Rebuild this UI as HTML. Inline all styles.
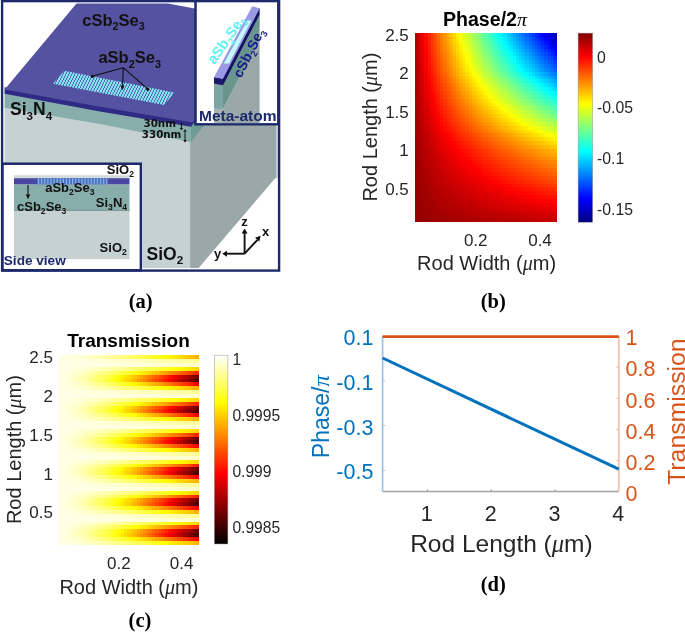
<!DOCTYPE html>
<html><head><meta charset="utf-8"><title>Figure</title>
<style>html,body{margin:0;padding:0;background:#fff;}body{width:685px;height:632px;overflow:hidden;position:relative}#wrap{position:absolute;left:0;top:0;width:685px;height:632px}svg{display:block;position:absolute;left:0;top:0}.hm{position:absolute;display:grid}</style>
</head><body><div id="wrap">
<svg width="685" height="632" viewBox="0 0 685 632">
<rect width="685" height="632" fill="#fff"/>
<polygon points="4.6,104 100,120 191,138 191,268 4.6,268" fill="#c6d2d2"/><polygon points="190.2,124 276,18 276,177.3 198.6,268 190.2,268" fill="#9aa8a7"/><rect x="276" y="120" width="2" height="58" fill="#c9d3d3"/><polygon points="190.4,126.6 215,96.4 215,111.8 190.4,142.6" fill="#6f9b96"/><polygon points="191,122.5 215,92.3 215,96.4 191,126.6" fill="#2e2a86"/><polygon points="4.6,91.6 100,108.6 191,124.6 191,142.2 100,123.9 4.6,107.8" fill="#87aeaa"/><polygon points="4.6,87.3 100,104.5 192.5,120.4 191,126.8 100,111.4 4.6,93.8" fill="#2e2a86"/><polygon points="4.6,89.5 76.5,3.4 168,3.4 200,9.6 200,112 192.5,122.4 100,106.8" fill="#5552a2"/><defs><pattern id="hatch" patternUnits="userSpaceOnUse" x="0" y="0" width="3" height="6"><rect width="3" height="6" fill="#5a6ab4"/><rect x="1" y="0" width="2" height="2" fill="#82e0ee"/><rect x="0" y="2" width="2" height="2" fill="#82e0ee"/><rect x="2" y="4" width="1" height="2" fill="#82e0ee"/><rect x="0" y="4" width="1" height="2" fill="#82e0ee"/></pattern></defs><polygon points="64.4,70.7 174.4,92.4 164.1,105.1 53.1,83.8" fill="url(#hatch)"/><g stroke="#111" stroke-width="1.1" fill="none"><line x1="123.3" y1="67.7" x2="92.2" y2="76.3"/><line x1="123.3" y1="67.7" x2="122.5" y2="87"/><line x1="123.3" y1="67.7" x2="147.8" y2="89.1"/></g><circle cx="92.2" cy="76.4" r="1.7" fill="#111"/><circle cx="147.8" cy="89.2" r="1.7" fill="#111"/><polygon points="120.3,85.6 124.6,85.8 122.3,90.3" fill="#111"/><g font-family="'Liberation Sans', Arial, sans-serif" font-weight="bold" fill="#111"><text x="82.2" y="26" font-size="16.5"><tspan>c</tspan><tspan>Sb</tspan><tspan font-size="10.9" dy="4.1">2</tspan><tspan dy="-4.1">​</tspan><tspan>Se</tspan><tspan font-size="10.9" dy="4.1">3</tspan><tspan dy="-4.1">​</tspan></text><text x="98.4" y="63.4" font-size="16.5"><tspan>a</tspan><tspan>Sb</tspan><tspan font-size="10.9" dy="4.1">2</tspan><tspan dy="-4.1">​</tspan><tspan>Se</tspan><tspan font-size="10.9" dy="4.1">3</tspan><tspan dy="-4.1">​</tspan></text><text x="10" y="115.4" font-size="17.5"><tspan>Si</tspan><tspan font-size="11.6" dy="4.4">3</tspan><tspan dy="-4.4">​</tspan><tspan>N</tspan><tspan font-size="11.6" dy="4.4">4</tspan><tspan dy="-4.4">​</tspan></text><text x="146.5" y="260" font-size="17.5"><tspan>SiO</tspan><tspan font-size="11.6" dy="4.4">2</tspan><tspan dy="-4.4">​</tspan></text></g><g font-family="'DejaVu Sans', sans-serif" font-weight="bold" fill="#111" font-size="10.3"><text x="143.5" y="127.2">30nm</text><text x="141.8" y="138.2">330nm</text></g><g stroke="#111" stroke-width="1" fill="#111"><line x1="181.4" y1="124.5" x2="181.4" y2="128"/><polygon points="179.6,124.6 183.2,124.6 181.4,122.4" stroke="none"/><polygon points="179.6,128 183.2,128 181.4,130.2" stroke="none"/><line x1="185" y1="131.5" x2="185" y2="140"/><polygon points="183.2,131.6 186.8,131.6 185,129.2" stroke="none"/><polygon points="183.2,140 186.8,140 185,142.4" stroke="none"/></g><g stroke="#111" stroke-width="1.9" fill="none"><line x1="244.6" y1="253.7" x2="244.6" y2="233"/><line x1="244.6" y1="253.7" x2="226.5" y2="253.7"/><line x1="244.6" y1="253.7" x2="257.5" y2="239.8"/></g><g fill="#111"><polygon points="241.6,233.5 247.6,233.5 244.6,228.6"/><polygon points="227,250.7 227,256.7 222.2,253.7"/><polygon points="255,237.8 259.4,241.6 260.6,235.8"/></g><g font-family="'Liberation Sans', Arial, sans-serif" font-weight="bold" fill="#111" font-size="13"><text x="244.6" y="226" text-anchor="middle">z</text><text x="265.6" y="236.2" text-anchor="middle">x</text><text x="217.6" y="258" text-anchor="middle">y</text></g><rect x="195.5" y="1" width="82.8" height="123.3" fill="#fff" stroke="#1c2a6c" stroke-width="2"/><polygon points="214,108.3 223,109 259.6,38.5 259.6,123.4 214,123.4" fill="#9aa8a7"/><rect x="214" y="108.3" width="8.4" height="15.1" fill="#a6b3b2"/><polygon points="223,84 259.6,13.5 259.6,38.5 223,109" fill="#6a958f"/><polygon points="214,82.4 223,84 223,109 214,108.3" fill="#7ba6a2"/><polygon points="222.4,78.6 259.6,7.8 259.6,14.6 223,85.2" fill="#161264"/><polygon points="214,77 223,78.7 223,85.2 214,83.4" fill="#1c186e"/><polygon points="214,77.2 252.2,6.3 259.6,8.2 223,78.8" fill="#9a9ae4"/><polygon points="223.8,63.6 247.2,20.4 251.4,20.4 229,63.6" fill="#c4fcfc"/><text font-family="'Liberation Sans', Arial, sans-serif" font-weight="bold" font-size="14.5" fill="#5ef2f4" text-anchor="middle" transform="translate(230.2,42.5) rotate(-55)"><tspan>a</tspan><tspan>Sb</tspan><tspan font-size="9.6" dy="3.6">2</tspan><tspan dy="-3.6">​</tspan><tspan>Se</tspan><tspan font-size="9.6" dy="3.6">3</tspan><tspan dy="-3.6">​</tspan></text><text font-family="'Liberation Sans', Arial, sans-serif" font-weight="bold" font-size="14" fill="#1a1a8c" text-anchor="middle" transform="translate(253,55) rotate(-63)"><tspan>c</tspan><tspan>Sb</tspan><tspan font-size="9.2" dy="3.5">2</tspan><tspan dy="-3.5">​</tspan><tspan>Se</tspan><tspan font-size="9.2" dy="3.5">3</tspan><tspan dy="-3.5">​</tspan></text><text x="199" y="121.2" font-family="'Liberation Sans', Arial, sans-serif" font-weight="bold" font-size="15.5" fill="#1c2a6c">Meta-atom</text><rect x="2.3" y="163.8" width="138.6" height="106.4" fill="#fff" stroke="#1c2a6c" stroke-width="2.2"/><rect x="14" y="175.2" width="115.5" height="3.2" fill="#d3dbdb"/><rect x="14" y="178.2" width="115.5" height="6.4" fill="#4a47a2"/><rect x="37" y="178.2" width="68.9" height="6.4" fill="#4d6cc2"/><rect x="37.90" y="178.2" width="1.3" height="6.4" fill="#80b3e3"/><rect x="41.00" y="178.2" width="1.3" height="6.4" fill="#80b3e3"/><rect x="44.10" y="178.2" width="1.3" height="6.4" fill="#80b3e3"/><rect x="47.20" y="178.2" width="1.3" height="6.4" fill="#80b3e3"/><rect x="50.30" y="178.2" width="1.3" height="6.4" fill="#80b3e3"/><rect x="53.40" y="178.2" width="1.3" height="6.4" fill="#80b3e3"/><rect x="56.50" y="178.2" width="1.3" height="6.4" fill="#80b3e3"/><rect x="59.60" y="178.2" width="1.3" height="6.4" fill="#80b3e3"/><rect x="62.70" y="178.2" width="1.3" height="6.4" fill="#80b3e3"/><rect x="65.80" y="178.2" width="1.3" height="6.4" fill="#80b3e3"/><rect x="68.90" y="178.2" width="1.3" height="6.4" fill="#80b3e3"/><rect x="72.00" y="178.2" width="1.3" height="6.4" fill="#80b3e3"/><rect x="75.10" y="178.2" width="1.3" height="6.4" fill="#80b3e3"/><rect x="78.20" y="178.2" width="1.3" height="6.4" fill="#80b3e3"/><rect x="81.30" y="178.2" width="1.3" height="6.4" fill="#80b3e3"/><rect x="84.40" y="178.2" width="1.3" height="6.4" fill="#80b3e3"/><rect x="87.50" y="178.2" width="1.3" height="6.4" fill="#80b3e3"/><rect x="90.60" y="178.2" width="1.3" height="6.4" fill="#80b3e3"/><rect x="93.70" y="178.2" width="1.3" height="6.4" fill="#80b3e3"/><rect x="96.80" y="178.2" width="1.3" height="6.4" fill="#80b3e3"/><rect x="99.90" y="178.2" width="1.3" height="6.4" fill="#80b3e3"/><rect x="103.00" y="178.2" width="1.3" height="6.4" fill="#80b3e3"/><rect x="106.10" y="178.2" width="1.3" height="6.4" fill="#80b3e3"/><rect x="14" y="184.6" width="115.5" height="25.8" fill="#87aeaa"/><rect x="14" y="210.4" width="115.5" height="48.8" fill="#c6d2d2"/><rect x="14" y="209.9" width="115.5" height="0.9" fill="#6f8a87"/><line x1="28" y1="185" x2="28" y2="195" stroke="#111" stroke-width="1.1"/><polygon points="25.8,194.5 30.2,194.5 28,199.2" fill="#111"/><g font-family="'Liberation Sans', Arial, sans-serif" font-weight="bold" fill="#111" font-size="13"><text x="106.8" y="173.6"><tspan>SiO</tspan><tspan font-size="8.6" dy="3.2">2</tspan><tspan dy="-3.2">​</tspan></text><text x="45.2" y="191.5"><tspan>a</tspan><tspan>Sb</tspan><tspan font-size="8.6" dy="3.2">2</tspan><tspan dy="-3.2">​</tspan><tspan>Se</tspan><tspan font-size="8.6" dy="3.2">3</tspan><tspan dy="-3.2">​</tspan></text><text x="17" y="210.8"><tspan>c</tspan><tspan>Sb</tspan><tspan font-size="8.6" dy="3.2">2</tspan><tspan dy="-3.2">​</tspan><tspan>Se</tspan><tspan font-size="8.6" dy="3.2">3</tspan><tspan dy="-3.2">​</tspan></text><text x="95.8" y="206.5"><tspan>Si</tspan><tspan font-size="8.6" dy="3.2">3</tspan><tspan dy="-3.2">​</tspan><tspan>N</tspan><tspan font-size="8.6" dy="3.2">4</tspan><tspan dy="-3.2">​</tspan></text><text x="99.6" y="251.8"><tspan>SiO</tspan><tspan font-size="8.6" dy="3.2">2</tspan><tspan dy="-3.2">​</tspan></text></g><text x="3.8" y="265" font-family="'Liberation Sans', Arial, sans-serif" font-weight="bold" font-size="13.6" fill="#1c2a6c">Side view</text><rect x="2.1" y="1.1" width="277" height="269.5" fill="none" stroke="#1c2a6c" stroke-width="2.4"/><rect x="2.3" y="163.8" width="138.6" height="106.4" fill="none" stroke="#1c2a6c" stroke-width="2.2"/><rect x="195.5" y="1" width="82.8" height="123.3" fill="none" stroke="#1c2a6c" stroke-width="2"/><text x="140.6" y="307.7" text-anchor="middle" font-family="'Liberation Serif', 'Times New Roman', serif" font-weight="bold" font-size="20.5" fill="#000">(a)</text>
<g font-family="'Liberation Sans', Arial, sans-serif"><text x="484.9" y="25.6" font-size="19.6" font-weight="bold" text-anchor="middle" fill="#000">Phase/2<tspan font-family="'Liberation Serif', 'Times New Roman', serif" font-style="italic" font-weight="normal">π</tspan></text><text x="408.8" y="41.10" font-size="17" text-anchor="end" fill="#262626" >2.5</text><text x="408.8" y="79.30" font-size="17" text-anchor="end" fill="#262626" >2</text><text x="408.8" y="117.50" font-size="17" text-anchor="end" fill="#262626" >1.5</text><text x="408.8" y="156.30" font-size="17" text-anchor="end" fill="#262626" >1</text><text x="408.8" y="194.90" font-size="17" text-anchor="end" fill="#262626" >0.5</text><text x="475.7" y="245.50" font-size="17" text-anchor="middle" fill="#262626" >0.2</text><text x="540" y="245.50" font-size="17" text-anchor="middle" fill="#262626" >0.4</text><text x="486.6" y="269.90" font-size="20" text-anchor="middle" fill="#262626" >Rod Width (<tspan font-family="'Liberation Serif', 'Times New Roman', serif" font-style="italic">μ</tspan>m)</text><text font-size="20" text-anchor="middle" fill="#262626" transform="translate(376.6,127.1) rotate(-90)">Rod Length (<tspan font-family="'Liberation Serif', 'Times New Roman', serif" font-style="italic">μ</tspan>m)</text><defs><linearGradient id="gjet" x1="0" y1="1" x2="0" y2="0"><stop offset="0.0000" stop-color="#000080"/><stop offset="0.0156" stop-color="#00008f"/><stop offset="0.0312" stop-color="#00009f"/><stop offset="0.0469" stop-color="#0000af"/><stop offset="0.0625" stop-color="#0000bf"/><stop offset="0.0781" stop-color="#0000cf"/><stop offset="0.0938" stop-color="#0000df"/><stop offset="0.1094" stop-color="#0000ef"/><stop offset="0.1250" stop-color="#0000ff"/><stop offset="0.1406" stop-color="#0010ff"/><stop offset="0.1562" stop-color="#0020ff"/><stop offset="0.1719" stop-color="#0030ff"/><stop offset="0.1875" stop-color="#0040ff"/><stop offset="0.2031" stop-color="#0050ff"/><stop offset="0.2188" stop-color="#0060ff"/><stop offset="0.2344" stop-color="#0070ff"/><stop offset="0.2500" stop-color="#0080ff"/><stop offset="0.2656" stop-color="#008fff"/><stop offset="0.2812" stop-color="#009fff"/><stop offset="0.2969" stop-color="#00afff"/><stop offset="0.3125" stop-color="#00bfff"/><stop offset="0.3281" stop-color="#00cfff"/><stop offset="0.3438" stop-color="#00dfff"/><stop offset="0.3594" stop-color="#00efff"/><stop offset="0.3750" stop-color="#00ffff"/><stop offset="0.3906" stop-color="#10ffef"/><stop offset="0.4062" stop-color="#20ffdf"/><stop offset="0.4219" stop-color="#30ffcf"/><stop offset="0.4375" stop-color="#40ffbf"/><stop offset="0.4531" stop-color="#50ffaf"/><stop offset="0.4688" stop-color="#60ff9f"/><stop offset="0.4844" stop-color="#70ff8f"/><stop offset="0.5000" stop-color="#80ff80"/><stop offset="0.5156" stop-color="#8fff70"/><stop offset="0.5312" stop-color="#9fff60"/><stop offset="0.5469" stop-color="#afff50"/><stop offset="0.5625" stop-color="#bfff40"/><stop offset="0.5781" stop-color="#cfff30"/><stop offset="0.5938" stop-color="#dfff20"/><stop offset="0.6094" stop-color="#efff10"/><stop offset="0.6250" stop-color="#ffff00"/><stop offset="0.6406" stop-color="#ffef00"/><stop offset="0.6562" stop-color="#ffdf00"/><stop offset="0.6719" stop-color="#ffcf00"/><stop offset="0.6875" stop-color="#ffbf00"/><stop offset="0.7031" stop-color="#ffaf00"/><stop offset="0.7188" stop-color="#ff9f00"/><stop offset="0.7344" stop-color="#ff8f00"/><stop offset="0.7500" stop-color="#ff8000"/><stop offset="0.7656" stop-color="#ff7000"/><stop offset="0.7812" stop-color="#ff6000"/><stop offset="0.7969" stop-color="#ff5000"/><stop offset="0.8125" stop-color="#ff4000"/><stop offset="0.8281" stop-color="#ff3000"/><stop offset="0.8438" stop-color="#ff2000"/><stop offset="0.8594" stop-color="#ff1000"/><stop offset="0.8750" stop-color="#ff0000"/><stop offset="0.8906" stop-color="#ef0000"/><stop offset="0.9062" stop-color="#df0000"/><stop offset="0.9219" stop-color="#cf0000"/><stop offset="0.9375" stop-color="#bf0000"/><stop offset="0.9531" stop-color="#af0000"/><stop offset="0.9688" stop-color="#9f0000"/><stop offset="0.9844" stop-color="#8f0000"/><stop offset="1.0000" stop-color="#800000"/></linearGradient></defs><rect x="578.1" y="33.1" width="14.6" height="189.1" fill="url(#gjet)" stroke="#9a9a9a" stroke-width="0.5"/><text x="597.0" y="62.75" font-size="15.8" text-anchor="start" fill="#262626" >0</text><text x="597.0" y="113.35" font-size="15.8" text-anchor="start" fill="#262626" >-0.05</text><text x="597.0" y="163.95" font-size="15.8" text-anchor="start" fill="#262626" >-0.1</text><text x="597.0" y="214.55" font-size="15.8" text-anchor="start" fill="#262626" >-0.15</text><text x="493.2" y="307.6" text-anchor="middle" font-family="'Liberation Serif', 'Times New Roman', serif" font-weight="bold" font-size="20.5" fill="#000">(b)</text></g>
<g font-family="'Liberation Sans', Arial, sans-serif"><text x="128.5" y="347.3" font-size="19" font-weight="bold" text-anchor="middle" fill="#000">Transmission</text><text x="52.9" y="362.80" font-size="17" text-anchor="end" fill="#262626" >2.5</text><text x="52.9" y="401.80" font-size="17" text-anchor="end" fill="#262626" >2</text><text x="52.9" y="440.80" font-size="17" text-anchor="end" fill="#262626" >1.5</text><text x="52.9" y="480.10" font-size="17" text-anchor="end" fill="#262626" >1</text><text x="52.9" y="518.40" font-size="17" text-anchor="end" fill="#262626" >0.5</text><text x="118.9" y="569.20" font-size="17" text-anchor="middle" fill="#262626" >0.2</text><text x="181.6" y="569.20" font-size="17" text-anchor="middle" fill="#262626" >0.4</text><text x="128.9" y="594.20" font-size="20" text-anchor="middle" fill="#262626" >Rod Width (<tspan font-family="'Liberation Serif', 'Times New Roman', serif" font-style="italic">μ</tspan>m)</text><text font-size="20" text-anchor="middle" fill="#262626" transform="translate(21.2,449.6) rotate(-90)">Rod Length (<tspan font-family="'Liberation Serif', 'Times New Roman', serif" font-style="italic">μ</tspan>m)</text><defs><linearGradient id="ghot" x1="0" y1="1" x2="0" y2="0"><stop offset="0.0000" stop-color="#000000"/><stop offset="0.0156" stop-color="#0b0000"/><stop offset="0.0312" stop-color="#150000"/><stop offset="0.0469" stop-color="#200000"/><stop offset="0.0625" stop-color="#2a0000"/><stop offset="0.0781" stop-color="#350000"/><stop offset="0.0938" stop-color="#400000"/><stop offset="0.1094" stop-color="#4a0000"/><stop offset="0.1250" stop-color="#550000"/><stop offset="0.1406" stop-color="#600000"/><stop offset="0.1562" stop-color="#6a0000"/><stop offset="0.1719" stop-color="#750000"/><stop offset="0.1875" stop-color="#800000"/><stop offset="0.2031" stop-color="#8a0000"/><stop offset="0.2188" stop-color="#950000"/><stop offset="0.2344" stop-color="#9f0000"/><stop offset="0.2500" stop-color="#aa0000"/><stop offset="0.2656" stop-color="#b50000"/><stop offset="0.2812" stop-color="#bf0000"/><stop offset="0.2969" stop-color="#ca0000"/><stop offset="0.3125" stop-color="#d40000"/><stop offset="0.3281" stop-color="#df0000"/><stop offset="0.3438" stop-color="#ea0000"/><stop offset="0.3594" stop-color="#f40000"/><stop offset="0.3750" stop-color="#ff0000"/><stop offset="0.3906" stop-color="#ff0b00"/><stop offset="0.4062" stop-color="#ff1500"/><stop offset="0.4219" stop-color="#ff2000"/><stop offset="0.4375" stop-color="#ff2a00"/><stop offset="0.4531" stop-color="#ff3500"/><stop offset="0.4688" stop-color="#ff4000"/><stop offset="0.4844" stop-color="#ff4a00"/><stop offset="0.5000" stop-color="#ff5500"/><stop offset="0.5156" stop-color="#ff6000"/><stop offset="0.5312" stop-color="#ff6a00"/><stop offset="0.5469" stop-color="#ff7500"/><stop offset="0.5625" stop-color="#ff8000"/><stop offset="0.5781" stop-color="#ff8a00"/><stop offset="0.5938" stop-color="#ff9500"/><stop offset="0.6094" stop-color="#ff9f00"/><stop offset="0.6250" stop-color="#ffaa00"/><stop offset="0.6406" stop-color="#ffb500"/><stop offset="0.6562" stop-color="#ffbf00"/><stop offset="0.6719" stop-color="#ffca00"/><stop offset="0.6875" stop-color="#ffd400"/><stop offset="0.7031" stop-color="#ffdf00"/><stop offset="0.7188" stop-color="#ffea00"/><stop offset="0.7344" stop-color="#fff400"/><stop offset="0.7500" stop-color="#ffff00"/><stop offset="0.7656" stop-color="#ffff10"/><stop offset="0.7812" stop-color="#ffff20"/><stop offset="0.7969" stop-color="#ffff30"/><stop offset="0.8125" stop-color="#ffff40"/><stop offset="0.8281" stop-color="#ffff50"/><stop offset="0.8438" stop-color="#ffff60"/><stop offset="0.8594" stop-color="#ffff70"/><stop offset="0.8750" stop-color="#ffff80"/><stop offset="0.8906" stop-color="#ffff8f"/><stop offset="0.9062" stop-color="#ffff9f"/><stop offset="0.9219" stop-color="#ffffaf"/><stop offset="0.9375" stop-color="#ffffbf"/><stop offset="0.9531" stop-color="#ffffcf"/><stop offset="0.9688" stop-color="#ffffdf"/><stop offset="0.9844" stop-color="#ffffef"/><stop offset="1.0000" stop-color="#ffffff"/></linearGradient></defs><rect x="214.3" y="355.2" width="13.6" height="188.8" fill="url(#ghot)" stroke="#9a9a9a" stroke-width="0.5"/><text x="232.4" y="364.80" font-size="15.6" text-anchor="start" fill="#262626" >1</text><text x="232.4" y="420.80" font-size="15.6" text-anchor="start" fill="#262626" >0.9995</text><text x="232.4" y="476.80" font-size="15.6" text-anchor="start" fill="#262626" >0.999</text><text x="232.4" y="532.80" font-size="15.6" text-anchor="start" fill="#262626" >0.9985</text><text x="140" y="626.8" text-anchor="middle" font-family="'Liberation Serif', 'Times New Roman', serif" font-weight="bold" font-size="20.5" fill="#000">(c)</text></g>
<g font-family="'Liberation Sans', Arial, sans-serif"><line x1="382.6" y1="491.6" x2="618.8" y2="491.6" stroke="#a3a3a3" stroke-width="1.5"/><line x1="382.6" y1="336" x2="382.6" y2="491.6" stroke="#98c3e6" stroke-width="1.7"/><line x1="618.8" y1="336" x2="618.8" y2="491.6" stroke="#f2b8a0" stroke-width="1.5"/><line x1="382.6" y1="380.8" x2="385.1" y2="380.8" stroke="#9cc4e4" stroke-width="1"/><line x1="382.6" y1="425.5" x2="385.1" y2="425.5" stroke="#9cc4e4" stroke-width="1"/><line x1="382.6" y1="470.3" x2="385.1" y2="470.3" stroke="#9cc4e4" stroke-width="1"/><line x1="616.3" y1="460.6" x2="618.8" y2="460.6" stroke="#f0b9a0" stroke-width="1"/><line x1="616.3" y1="429.4" x2="618.8" y2="429.4" stroke="#f0b9a0" stroke-width="1"/><line x1="616.3" y1="398.3" x2="618.8" y2="398.3" stroke="#f0b9a0" stroke-width="1"/><line x1="616.3" y1="367.1" x2="618.8" y2="367.1" stroke="#f0b9a0" stroke-width="1"/><line x1="427.3" y1="491.6" x2="427.3" y2="489.1" stroke="#a0a0a0" stroke-width="1"/><line x1="491.2" y1="491.6" x2="491.2" y2="489.1" stroke="#a0a0a0" stroke-width="1"/><line x1="555.0" y1="491.6" x2="555.0" y2="489.1" stroke="#a0a0a0" stroke-width="1"/><line x1="382.6" y1="336.6" x2="618.8" y2="336.6" stroke="#d95319" stroke-width="2.6"/><line x1="382.6" y1="358" x2="618.8" y2="469.2" stroke="#0072bd" stroke-width="3"/><text x="373.4" y="345.00" font-size="21.5" text-anchor="end" fill="#0072bd" >0.1</text><text x="373.4" y="390.40" font-size="21.5" text-anchor="end" fill="#0072bd" >-0.1</text><text x="373.4" y="435.00" font-size="21.5" text-anchor="end" fill="#0072bd" >-0.3</text><text x="373.4" y="478.90" font-size="21.5" text-anchor="end" fill="#0072bd" >-0.5</text><text x="625.5" y="345.20" font-size="21.5" text-anchor="start" fill="#d95319" >1</text><text x="625.5" y="376.30" font-size="21.5" text-anchor="start" fill="#d95319" >0.8</text><text x="625.5" y="407.60" font-size="21.5" text-anchor="start" fill="#d95319" >0.6</text><text x="625.5" y="438.70" font-size="21.5" text-anchor="start" fill="#d95319" >0.4</text><text x="625.5" y="469.80" font-size="21.5" text-anchor="start" fill="#d95319" >0.2</text><text x="625.5" y="500.90" font-size="21.5" text-anchor="start" fill="#d95319" >0</text><text x="426.7" y="521.20" font-size="21.5" text-anchor="middle" fill="#262626" >1</text><text x="490.8" y="521.20" font-size="21.5" text-anchor="middle" fill="#262626" >2</text><text x="554.6" y="521.20" font-size="21.5" text-anchor="middle" fill="#262626" >3</text><text x="618.3" y="521.20" font-size="21.5" text-anchor="middle" fill="#262626" >4</text><text x="501.4" y="551.50" font-size="24.5" text-anchor="middle" fill="#262626" >Rod Length (<tspan font-family="'Liberation Serif', 'Times New Roman', serif" font-style="italic">μ</tspan>m)</text><text font-size="23" text-anchor="middle" fill="#0072bd" transform="translate(329.2,416.6) rotate(-90)">Phase/<tspan font-family="'Liberation Serif', 'Times New Roman', serif" font-style="italic" font-weight="normal">π</tspan></text><text font-size="24.8" text-anchor="middle" fill="#d95319" transform="translate(684.8,411.6) rotate(-90)">Transmission</text><text x="493.2" y="590.9" text-anchor="middle" font-family="'Liberation Serif', 'Times New Roman', serif" font-weight="bold" font-size="20.5" fill="#000">(d)</text></g>
</svg>
<div class="hm" style="left:415px;top:33.1px;width:141.50px;height:189.10px;grid-template-rows:repeat(49,1fr)"><div style="background:linear-gradient(90deg,#b70000 0 2.22%,#d50000 0 4.44%,#f00000 0 6.67%,#ff0b00 0 8.89%,#ff2400 0 11.11%,#ff3d00 0 13.33%,#ff5500 0 15.56%,#ff6c00 0 17.78%,#ff8300 0 20.00%,#ff9a00 0 22.22%,#ffb000 0 24.44%,#ffc600 0 26.67%,#ffdb00 0 28.89%,#fff100 0 31.11%,#f8ff07 0 33.33%,#e3ff1c 0 35.56%,#cfff30 0 37.78%,#baff45 0 40.00%,#a6ff59 0 42.22%,#91ff6e 0 44.44%,#7dff82 0 46.67%,#69ff96 0 48.89%,#56ffa9 0 51.11%,#42ffbd 0 53.33%,#2effd1 0 55.56%,#1bffe4 0 57.78%,#08fff7 0 60.00%,#00f4ff 0 62.22%,#00e0ff 0 64.44%,#00cdff 0 66.67%,#00bbff 0 68.89%,#00a8ff 0 71.11%,#0095ff 0 73.33%,#0082ff 0 75.56%,#0070ff 0 77.78%,#005dff 0 80.00%,#004bff 0 82.22%,#0039ff 0 84.44%,#0026ff 0 86.67%,#0014ff 0 88.89%,#0002ff 0 91.11%,#0000ef 0 93.33%,#0000dd 0 95.56%,#0000cb 0 97.78%,#0000b9 0 100.00%)"></div><div style="background:linear-gradient(90deg,#b60000 0 2.22%,#d30000 0 4.44%,#ee0000 0 6.67%,#ff0900 0 8.89%,#ff2200 0 11.11%,#ff3a00 0 13.33%,#ff5100 0 15.56%,#ff6800 0 17.78%,#ff7e00 0 20.00%,#ff9500 0 22.22%,#ffaa00 0 24.44%,#ffc000 0 26.67%,#ffd500 0 28.89%,#ffea00 0 31.11%,#ffff00 0 33.33%,#ebff14 0 35.56%,#d6ff29 0 37.78%,#c2ff3d 0 40.00%,#aeff51 0 42.22%,#9bff64 0 44.44%,#87ff78 0 46.67%,#73ff8c 0 48.89%,#60ff9f 0 51.11%,#4dffb2 0 53.33%,#39ffc6 0 55.56%,#26ffd9 0 57.78%,#13ffec 0 60.00%,#01fffe 0 62.22%,#00edff 0 64.44%,#00daff 0 66.67%,#00c8ff 0 68.89%,#00b5ff 0 71.11%,#00a3ff 0 73.33%,#0091ff 0 75.56%,#007eff 0 77.78%,#006cff 0 80.00%,#005aff 0 82.22%,#0048ff 0 84.44%,#0036ff 0 86.67%,#0024ff 0 88.89%,#0013ff 0 91.11%,#0001ff 0 93.33%,#0000ee 0 95.56%,#0000dd 0 97.78%,#0000cb 0 100.00%)"></div><div style="background:linear-gradient(90deg,#b50000 0 2.22%,#d20000 0 4.44%,#ec0000 0 6.67%,#ff0700 0 8.89%,#ff1f00 0 11.11%,#ff3600 0 13.33%,#ff4d00 0 15.56%,#ff6400 0 17.78%,#ff7a00 0 20.00%,#ff8f00 0 22.22%,#ffa500 0 24.44%,#ffba00 0 26.67%,#ffcf00 0 28.89%,#ffe300 0 31.11%,#fff800 0 33.33%,#f2ff0d 0 35.56%,#deff21 0 37.78%,#cbff34 0 40.00%,#b7ff48 0 42.22%,#a4ff5b 0 44.44%,#90ff6f 0 46.67%,#7dff82 0 48.89%,#6aff95 0 51.11%,#57ffa8 0 53.33%,#44ffbb 0 55.56%,#32ffcd 0 57.78%,#1fffe0 0 60.00%,#0dfff2 0 62.22%,#00f9ff 0 64.44%,#00e7ff 0 66.67%,#00d5ff 0 68.89%,#00c3ff 0 71.11%,#00b1ff 0 73.33%,#009fff 0 75.56%,#008dff 0 77.78%,#007bff 0 80.00%,#006aff 0 82.22%,#0058ff 0 84.44%,#0046ff 0 86.67%,#0035ff 0 88.89%,#0023ff 0 91.11%,#0012ff 0 93.33%,#0001ff 0 95.56%,#0000ef 0 97.78%,#0000dd 0 100.00%)"></div><div style="background:linear-gradient(90deg,#b50000 0 2.22%,#d10000 0 4.44%,#eb0000 0 6.67%,#ff0400 0 8.89%,#ff1c00 0 11.11%,#ff3300 0 13.33%,#ff4a00 0 15.56%,#ff6000 0 17.78%,#ff7500 0 20.00%,#ff8a00 0 22.22%,#ff9f00 0 24.44%,#ffb400 0 26.67%,#ffc800 0 28.89%,#ffdc00 0 31.11%,#fff000 0 33.33%,#faff05 0 35.56%,#e6ff19 0 37.78%,#d3ff2c 0 40.00%,#c0ff3f 0 42.22%,#adff52 0 44.44%,#9aff65 0 46.67%,#87ff78 0 48.89%,#74ff8b 0 51.11%,#62ff9d 0 53.33%,#4fffb0 0 55.56%,#3dffc2 0 57.78%,#2bffd4 0 60.00%,#19ffe6 0 62.22%,#07fff8 0 64.44%,#00f4ff 0 66.67%,#00e2ff 0 68.89%,#00d0ff 0 71.11%,#00bfff 0 73.33%,#00adff 0 75.56%,#009cff 0 77.78%,#008aff 0 80.00%,#0079ff 0 82.22%,#0068ff 0 84.44%,#0056ff 0 86.67%,#0045ff 0 88.89%,#0034ff 0 91.11%,#0023ff 0 93.33%,#0012ff 0 95.56%,#0001ff 0 97.78%,#0000ef 0 100.00%)"></div><div style="background:linear-gradient(90deg,#b40000 0 2.22%,#cf0000 0 4.44%,#e90000 0 6.67%,#ff0200 0 8.89%,#ff1900 0 11.11%,#ff3000 0 13.33%,#ff4600 0 15.56%,#ff5b00 0 17.78%,#ff7100 0 20.00%,#ff8500 0 22.22%,#ff9a00 0 24.44%,#ffae00 0 26.67%,#ffc200 0 28.89%,#ffd600 0 31.11%,#ffe900 0 33.33%,#fffd00 0 35.56%,#eeff11 0 37.78%,#dbff24 0 40.00%,#c8ff37 0 42.22%,#b6ff49 0 44.44%,#a3ff5c 0 46.67%,#91ff6e 0 48.89%,#7fff80 0 51.11%,#6cff93 0 53.33%,#5affa5 0 55.56%,#48ffb7 0 57.78%,#37ffc8 0 60.00%,#25ffda 0 62.22%,#13ffec 0 64.44%,#02fffd 0 66.67%,#00efff 0 68.89%,#00deff 0 71.11%,#00cdff 0 73.33%,#00bbff 0 75.56%,#00aaff 0 77.78%,#0099ff 0 80.00%,#0088ff 0 82.22%,#0077ff 0 84.44%,#0066ff 0 86.67%,#0056ff 0 88.89%,#0045ff 0 91.11%,#0034ff 0 93.33%,#0024ff 0 95.56%,#0013ff 0 97.78%,#0003ff 0 100.00%)"></div><div style="background:linear-gradient(90deg,#b30000 0 2.22%,#ce0000 0 4.44%,#e70000 0 6.67%,#ff0000 0 8.89%,#ff1700 0 11.11%,#ff2d00 0 13.33%,#ff4200 0 15.56%,#ff5700 0 17.78%,#ff6c00 0 20.00%,#ff8000 0 22.22%,#ff9400 0 24.44%,#ffa800 0 26.67%,#ffbc00 0 28.89%,#ffcf00 0 31.11%,#ffe200 0 33.33%,#fff500 0 35.56%,#f6ff09 0 37.78%,#e4ff1b 0 40.00%,#d1ff2e 0 42.22%,#bfff40 0 44.44%,#adff52 0 46.67%,#9bff64 0 48.89%,#89ff76 0 51.11%,#77ff88 0 53.33%,#65ff9a 0 55.56%,#54ffab 0 57.78%,#42ffbd 0 60.00%,#31ffce 0 62.22%,#20ffdf 0 64.44%,#0ffff0 0 66.67%,#00fcff 0 68.89%,#00ebff 0 71.11%,#00daff 0 73.33%,#00caff 0 75.56%,#00b9ff 0 77.78%,#00a8ff 0 80.00%,#0097ff 0 82.22%,#0087ff 0 84.44%,#0076ff 0 86.67%,#0066ff 0 88.89%,#0056ff 0 91.11%,#0045ff 0 93.33%,#0035ff 0 95.56%,#0025ff 0 97.78%,#0015ff 0 100.00%)"></div><div style="background:linear-gradient(90deg,#b20000 0 2.22%,#cd0000 0 4.44%,#e50000 0 6.67%,#fc0000 0 8.89%,#ff1400 0 11.11%,#ff2900 0 13.33%,#ff3e00 0 15.56%,#ff5300 0 17.78%,#ff6700 0 20.00%,#ff7b00 0 22.22%,#ff8f00 0 24.44%,#ffa200 0 26.67%,#ffb500 0 28.89%,#ffc800 0 31.11%,#ffdb00 0 33.33%,#ffee00 0 35.56%,#feff01 0 37.78%,#ecff13 0 40.00%,#daff25 0 42.22%,#c8ff37 0 44.44%,#b6ff49 0 46.67%,#a5ff5a 0 48.89%,#93ff6c 0 51.11%,#82ff7d 0 53.33%,#70ff8f 0 55.56%,#5fffa0 0 57.78%,#4effb1 0 60.00%,#3dffc2 0 62.22%,#2cffd3 0 64.44%,#1bffe4 0 66.67%,#0bfff4 0 68.89%,#00f9ff 0 71.11%,#00e8ff 0 73.33%,#00d8ff 0 75.56%,#00c7ff 0 77.78%,#00b7ff 0 80.00%,#00a7ff 0 82.22%,#0097ff 0 84.44%,#0086ff 0 86.67%,#0076ff 0 88.89%,#0066ff 0 91.11%,#0056ff 0 93.33%,#0046ff 0 95.56%,#0037ff 0 97.78%,#0027ff 0 100.00%)"></div><div style="background:linear-gradient(90deg,#b20000 0 2.22%,#cc0000 0 4.44%,#e30000 0 6.67%,#fa0000 0 8.89%,#ff1100 0 11.11%,#ff2600 0 13.33%,#ff3b00 0 15.56%,#ff4f00 0 17.78%,#ff6300 0 20.00%,#ff7600 0 22.22%,#ff8a00 0 24.44%,#ff9c00 0 26.67%,#ffaf00 0 28.89%,#ffc200 0 31.11%,#ffd400 0 33.33%,#ffe600 0 35.56%,#fff800 0 37.78%,#f4ff0b 0 40.00%,#e3ff1c 0 42.22%,#d1ff2e 0 44.44%,#c0ff3f 0 46.67%,#aeff51 0 48.89%,#9dff62 0 51.11%,#8cff73 0 53.33%,#7bff84 0 55.56%,#6aff95 0 57.78%,#5affa5 0 60.00%,#49ffb6 0 62.22%,#39ffc6 0 64.44%,#28ffd7 0 66.67%,#18ffe7 0 68.89%,#07fff8 0 71.11%,#00f6ff 0 73.33%,#00e6ff 0 75.56%,#00d6ff 0 77.78%,#00c6ff 0 80.00%,#00b6ff 0 82.22%,#00a6ff 0 84.44%,#0096ff 0 86.67%,#0087ff 0 88.89%,#0077ff 0 91.11%,#0067ff 0 93.33%,#0058ff 0 95.56%,#0048ff 0 97.78%,#0039ff 0 100.00%)"></div><div style="background:linear-gradient(90deg,#b10000 0 2.22%,#ca0000 0 4.44%,#e20000 0 6.67%,#f80000 0 8.89%,#ff0e00 0 11.11%,#ff2300 0 13.33%,#ff3700 0 15.56%,#ff4b00 0 17.78%,#ff5e00 0 20.00%,#ff7100 0 22.22%,#ff8400 0 24.44%,#ff9700 0 26.67%,#ffa900 0 28.89%,#ffbb00 0 31.11%,#ffcd00 0 33.33%,#ffdf00 0 35.56%,#fff000 0 37.78%,#fcff03 0 40.00%,#ebff14 0 42.22%,#daff25 0 44.44%,#c9ff36 0 46.67%,#b8ff47 0 48.89%,#a7ff58 0 51.11%,#97ff68 0 53.33%,#86ff79 0 55.56%,#76ff89 0 57.78%,#65ff9a 0 60.00%,#55ffaa 0 62.22%,#45ffba 0 64.44%,#35ffca 0 66.67%,#25ffda 0 68.89%,#15ffea 0 71.11%,#05fffa 0 73.33%,#00f4ff 0 75.56%,#00e5ff 0 77.78%,#00d5ff 0 80.00%,#00c5ff 0 82.22%,#00b6ff 0 84.44%,#00a6ff 0 86.67%,#0097ff 0 88.89%,#0088ff 0 91.11%,#0078ff 0 93.33%,#0069ff 0 95.56%,#005aff 0 97.78%,#004bff 0 100.00%)"></div><div style="background:linear-gradient(90deg,#b00000 0 2.22%,#c90000 0 4.44%,#e00000 0 6.67%,#f50000 0 8.89%,#ff0b00 0 11.11%,#ff1f00 0 13.33%,#ff3300 0 15.56%,#ff4600 0 17.78%,#ff5900 0 20.00%,#ff6c00 0 22.22%,#ff7e00 0 24.44%,#ff9000 0 26.67%,#ffa200 0 28.89%,#ffb400 0 31.11%,#ffc500 0 33.33%,#ffd700 0 35.56%,#ffe800 0 37.78%,#fff900 0 40.00%,#f5ff0a 0 42.22%,#e4ff1b 0 44.44%,#d3ff2c 0 46.67%,#c3ff3c 0 48.89%,#b2ff4d 0 51.11%,#a2ff5d 0 53.33%,#92ff6d 0 55.56%,#82ff7d 0 57.78%,#72ff8d 0 60.00%,#62ff9d 0 62.22%,#52ffad 0 64.44%,#43ffbc 0 66.67%,#33ffcc 0 68.89%,#24ffdb 0 71.11%,#14ffeb 0 73.33%,#05fffa 0 75.56%,#00f4ff 0 77.78%,#00e5ff 0 80.00%,#00d6ff 0 82.22%,#00c7ff 0 84.44%,#00b8ff 0 86.67%,#00a9ff 0 88.89%,#009aff 0 91.11%,#008bff 0 93.33%,#007cff 0 95.56%,#006dff 0 97.78%,#005eff 0 100.00%)"></div><div style="background:linear-gradient(90deg,#af0000 0 2.22%,#c70000 0 4.44%,#dd0000 0 6.67%,#f20000 0 8.89%,#ff0700 0 11.11%,#ff1b00 0 13.33%,#ff2e00 0 15.56%,#ff4100 0 17.78%,#ff5300 0 20.00%,#ff6500 0 22.22%,#ff7700 0 24.44%,#ff8800 0 26.67%,#ff9a00 0 28.89%,#ffab00 0 31.11%,#ffbc00 0 33.33%,#ffcc00 0 35.56%,#ffdd00 0 37.78%,#ffed00 0 40.00%,#fffe00 0 42.22%,#f0ff0f 0 44.44%,#e0ff1f 0 46.67%,#d0ff2f 0 48.89%,#c0ff3f 0 51.11%,#b1ff4e 0 53.33%,#a1ff5e 0 55.56%,#91ff6e 0 57.78%,#82ff7d 0 60.00%,#73ff8c 0 62.22%,#63ff9c 0 64.44%,#54ffab 0 66.67%,#45ffba 0 68.89%,#36ffc9 0 71.11%,#27ffd8 0 73.33%,#18ffe7 0 75.56%,#09fff6 0 77.78%,#00f9ff 0 80.00%,#00ebff 0 82.22%,#00dcff 0 84.44%,#00cdff 0 86.67%,#00bfff 0 88.89%,#00b0ff 0 91.11%,#00a2ff 0 93.33%,#0094ff 0 95.56%,#0085ff 0 97.78%,#0077ff 0 100.00%)"></div><div style="background:linear-gradient(90deg,#ae0000 0 2.22%,#c50000 0 4.44%,#db0000 0 6.67%,#ef0000 0 8.89%,#ff0400 0 11.11%,#ff1600 0 13.33%,#ff2900 0 15.56%,#ff3b00 0 17.78%,#ff4d00 0 20.00%,#ff5e00 0 22.22%,#ff6f00 0 24.44%,#ff8000 0 26.67%,#ff9100 0 28.89%,#ffa200 0 31.11%,#ffb200 0 33.33%,#ffc200 0 35.56%,#ffd200 0 37.78%,#ffe200 0 40.00%,#fff200 0 42.22%,#fdff02 0 44.44%,#edff12 0 46.67%,#deff21 0 48.89%,#ceff31 0 51.11%,#bfff40 0 53.33%,#b0ff4f 0 55.56%,#a1ff5e 0 57.78%,#92ff6d 0 60.00%,#83ff7c 0 62.22%,#74ff8b 0 64.44%,#66ff99 0 66.67%,#57ffa8 0 68.89%,#48ffb7 0 71.11%,#3affc5 0 73.33%,#2bffd4 0 75.56%,#1dffe2 0 77.78%,#0ffff0 0 80.00%,#01fffe 0 82.22%,#00f1ff 0 84.44%,#00e3ff 0 86.67%,#00d5ff 0 88.89%,#00c7ff 0 91.11%,#00b9ff 0 93.33%,#00abff 0 95.56%,#009dff 0 97.78%,#008fff 0 100.00%)"></div><div style="background:linear-gradient(90deg,#ad0000 0 2.22%,#c40000 0 4.44%,#d80000 0 6.67%,#ec0000 0 8.89%,#ff0000 0 11.11%,#ff1200 0 13.33%,#ff2400 0 15.56%,#ff3500 0 17.78%,#ff4600 0 20.00%,#ff5700 0 22.22%,#ff6800 0 24.44%,#ff7800 0 26.67%,#ff8800 0 28.89%,#ff9800 0 31.11%,#ffa800 0 33.33%,#ffb800 0 35.56%,#ffc700 0 37.78%,#ffd700 0 40.00%,#ffe600 0 42.22%,#fff500 0 44.44%,#faff05 0 46.67%,#ebff14 0 48.89%,#dcff23 0 51.11%,#cdff32 0 53.33%,#bfff40 0 55.56%,#b0ff4f 0 57.78%,#a2ff5d 0 60.00%,#93ff6c 0 62.22%,#85ff7a 0 64.44%,#77ff88 0 66.67%,#69ff96 0 68.89%,#5bffa4 0 71.11%,#4dffb2 0 73.33%,#3fffc0 0 75.56%,#31ffce 0 77.78%,#23ffdc 0 80.00%,#15ffea 0 82.22%,#08fff7 0 84.44%,#00f9ff 0 86.67%,#00ebff 0 88.89%,#00deff 0 91.11%,#00d0ff 0 93.33%,#00c3ff 0 95.56%,#00b5ff 0 97.78%,#00a8ff 0 100.00%)"></div><div style="background:linear-gradient(90deg,#ac0000 0 2.22%,#c20000 0 4.44%,#d60000 0 6.67%,#e90000 0 8.89%,#fb0000 0 11.11%,#ff0e00 0 13.33%,#ff1f00 0 15.56%,#ff3000 0 17.78%,#ff4000 0 20.00%,#ff5000 0 22.22%,#ff6000 0 24.44%,#ff7000 0 26.67%,#ff8000 0 28.89%,#ff8f00 0 31.11%,#ff9f00 0 33.33%,#ffae00 0 35.56%,#ffbd00 0 37.78%,#ffcb00 0 40.00%,#ffda00 0 42.22%,#ffe900 0 44.44%,#fff700 0 46.67%,#f8ff07 0 48.89%,#eaff15 0 51.11%,#dcff23 0 53.33%,#ceff31 0 55.56%,#c0ff3f 0 57.78%,#b2ff4d 0 60.00%,#a4ff5b 0 62.22%,#96ff69 0 64.44%,#88ff77 0 66.67%,#7bff84 0 68.89%,#6dff92 0 71.11%,#60ff9f 0 73.33%,#52ffad 0 75.56%,#45ffba 0 77.78%,#37ffc8 0 80.00%,#2affd5 0 82.22%,#1dffe2 0 84.44%,#10ffef 0 86.67%,#03fffc 0 88.89%,#00f5ff 0 91.11%,#00e8ff 0 93.33%,#00dbff 0 95.56%,#00ceff 0 97.78%,#00c1ff 0 100.00%)"></div><div style="background:linear-gradient(90deg,#ab0000 0 2.22%,#c00000 0 4.44%,#d30000 0 6.67%,#e60000 0 8.89%,#f70000 0 11.11%,#ff0900 0 13.33%,#ff1a00 0 15.56%,#ff2a00 0 17.78%,#ff3a00 0 20.00%,#ff4a00 0 22.22%,#ff5900 0 24.44%,#ff6800 0 26.67%,#ff7700 0 28.89%,#ff8600 0 31.11%,#ff9500 0 33.33%,#ffa300 0 35.56%,#ffb200 0 37.78%,#ffc000 0 40.00%,#ffce00 0 42.22%,#ffdc00 0 44.44%,#ffea00 0 46.67%,#fff800 0 48.89%,#f8ff07 0 51.11%,#eaff15 0 53.33%,#ddff22 0 55.56%,#cfff30 0 57.78%,#c2ff3d 0 60.00%,#b4ff4b 0 62.22%,#a7ff58 0 64.44%,#9aff65 0 66.67%,#8dff72 0 68.89%,#80ff7f 0 71.11%,#73ff8c 0 73.33%,#66ff99 0 75.56%,#59ffa6 0 77.78%,#4cffb3 0 80.00%,#3fffc0 0 82.22%,#32ffcd 0 84.44%,#26ffd9 0 86.67%,#19ffe6 0 88.89%,#0cfff3 0 91.11%,#00ffff 0 93.33%,#00f2ff 0 95.56%,#00e6ff 0 97.78%,#00d9ff 0 100.00%)"></div><div style="background:linear-gradient(90deg,#ab0000 0 2.22%,#bf0000 0 4.44%,#d10000 0 6.67%,#e30000 0 8.89%,#f30000 0 11.11%,#ff0500 0 13.33%,#ff1500 0 15.56%,#ff2500 0 17.78%,#ff3400 0 20.00%,#ff4300 0 22.22%,#ff5200 0 24.44%,#ff6100 0 26.67%,#ff6f00 0 28.89%,#ff7d00 0 31.11%,#ff8c00 0 33.33%,#ff9a00 0 35.56%,#ffa800 0 37.78%,#ffb500 0 40.00%,#ffc300 0 42.22%,#ffd100 0 44.44%,#ffde00 0 46.67%,#ffeb00 0 48.89%,#fff900 0 51.11%,#f8ff07 0 53.33%,#ebff14 0 55.56%,#deff21 0 57.78%,#d1ff2e 0 60.00%,#c4ff3b 0 62.22%,#b7ff48 0 64.44%,#abff54 0 66.67%,#9eff61 0 68.89%,#91ff6e 0 71.11%,#85ff7a 0 73.33%,#78ff87 0 75.56%,#6cff93 0 77.78%,#5fffa0 0 80.00%,#53ffac 0 82.22%,#47ffb8 0 84.44%,#3bffc4 0 86.67%,#2effd1 0 88.89%,#22ffdd 0 91.11%,#16ffe9 0 93.33%,#0afff5 0 95.56%,#00fdff 0 97.78%,#00f1ff 0 100.00%)"></div><div style="background:linear-gradient(90deg,#aa0000 0 2.22%,#bd0000 0 4.44%,#cf0000 0 6.67%,#e00000 0 8.89%,#f00000 0 11.11%,#ff0100 0 13.33%,#ff1000 0 15.56%,#ff1f00 0 17.78%,#ff2e00 0 20.00%,#ff3d00 0 22.22%,#ff4b00 0 24.44%,#ff5900 0 26.67%,#ff6700 0 28.89%,#ff7500 0 31.11%,#ff8300 0 33.33%,#ff9000 0 35.56%,#ff9e00 0 37.78%,#ffab00 0 40.00%,#ffb800 0 42.22%,#ffc500 0 44.44%,#ffd200 0 46.67%,#ffdf00 0 48.89%,#ffec00 0 51.11%,#fff900 0 53.33%,#f9ff06 0 55.56%,#ecff13 0 57.78%,#e0ff1f 0 60.00%,#d3ff2c 0 62.22%,#c7ff38 0 64.44%,#bbff44 0 66.67%,#aeff51 0 68.89%,#a2ff5d 0 71.11%,#96ff69 0 73.33%,#8aff75 0 75.56%,#7eff81 0 77.78%,#72ff8d 0 80.00%,#66ff99 0 82.22%,#5affa5 0 84.44%,#4effb1 0 86.67%,#43ffbc 0 88.89%,#37ffc8 0 91.11%,#2bffd4 0 93.33%,#20ffdf 0 95.56%,#14ffeb 0 97.78%,#08fff7 0 100.00%)"></div><div style="background:linear-gradient(90deg,#a90000 0 2.22%,#bb0000 0 4.44%,#cd0000 0 6.67%,#dd0000 0 8.89%,#ed0000 0 11.11%,#fc0000 0 13.33%,#ff0c00 0 15.56%,#ff1a00 0 17.78%,#ff2800 0 20.00%,#ff3700 0 22.22%,#ff4400 0 24.44%,#ff5200 0 26.67%,#ff5f00 0 28.89%,#ff6d00 0 31.11%,#ff7a00 0 33.33%,#ff8700 0 35.56%,#ff9400 0 37.78%,#ffa100 0 40.00%,#ffad00 0 42.22%,#ffba00 0 44.44%,#ffc700 0 46.67%,#ffd300 0 48.89%,#ffdf00 0 51.11%,#ffec00 0 53.33%,#fff800 0 55.56%,#faff05 0 57.78%,#eeff11 0 60.00%,#e2ff1d 0 62.22%,#d6ff29 0 64.44%,#caff35 0 66.67%,#bfff40 0 68.89%,#b3ff4c 0 71.11%,#a7ff58 0 73.33%,#9cff63 0 75.56%,#90ff6f 0 77.78%,#84ff7b 0 80.00%,#79ff86 0 82.22%,#6eff91 0 84.44%,#62ff9d 0 86.67%,#57ffa8 0 88.89%,#4cffb3 0 91.11%,#40ffbf 0 93.33%,#35ffca 0 95.56%,#2affd5 0 97.78%,#1fffe0 0 100.00%)"></div><div style="background:linear-gradient(90deg,#a80000 0 2.22%,#ba0000 0 4.44%,#ca0000 0 6.67%,#da0000 0 8.89%,#e90000 0 11.11%,#f80000 0 13.33%,#ff0700 0 15.56%,#ff1500 0 17.78%,#ff2300 0 20.00%,#ff3000 0 22.22%,#ff3e00 0 24.44%,#ff4b00 0 26.67%,#ff5800 0 28.89%,#ff6500 0 31.11%,#ff7100 0 33.33%,#ff7e00 0 35.56%,#ff8a00 0 37.78%,#ff9600 0 40.00%,#ffa300 0 42.22%,#ffaf00 0 44.44%,#ffbb00 0 46.67%,#ffc700 0 48.89%,#ffd300 0 51.11%,#ffde00 0 53.33%,#ffea00 0 55.56%,#fff600 0 57.78%,#fdff02 0 60.00%,#f1ff0e 0 62.22%,#e6ff19 0 64.44%,#daff25 0 66.67%,#cfff30 0 68.89%,#c4ff3b 0 71.11%,#b8ff47 0 73.33%,#adff52 0 75.56%,#a2ff5d 0 77.78%,#97ff68 0 80.00%,#8cff73 0 82.22%,#81ff7e 0 84.44%,#76ff89 0 86.67%,#6bff94 0 88.89%,#60ff9f 0 91.11%,#55ffaa 0 93.33%,#4bffb4 0 95.56%,#40ffbf 0 97.78%,#35ffca 0 100.00%)"></div><div style="background:linear-gradient(90deg,#a70000 0 2.22%,#b80000 0 4.44%,#c80000 0 6.67%,#d70000 0 8.89%,#e60000 0 11.11%,#f40000 0 13.33%,#ff0200 0 15.56%,#ff1000 0 17.78%,#ff1d00 0 20.00%,#ff2a00 0 22.22%,#ff3700 0 24.44%,#ff4300 0 26.67%,#ff5000 0 28.89%,#ff5c00 0 31.11%,#ff6800 0 33.33%,#ff7400 0 35.56%,#ff8000 0 37.78%,#ff8c00 0 40.00%,#ff9800 0 42.22%,#ffa400 0 44.44%,#ffaf00 0 46.67%,#ffbb00 0 48.89%,#ffc600 0 51.11%,#ffd100 0 53.33%,#ffdd00 0 55.56%,#ffe800 0 57.78%,#fff300 0 60.00%,#fffe00 0 62.22%,#f5ff0a 0 64.44%,#eaff15 0 66.67%,#dfff20 0 68.89%,#d4ff2b 0 71.11%,#caff35 0 73.33%,#bfff40 0 75.56%,#b4ff4b 0 77.78%,#a9ff56 0 80.00%,#9fff60 0 82.22%,#94ff6b 0 84.44%,#8aff75 0 86.67%,#7fff80 0 88.89%,#75ff8a 0 91.11%,#6aff95 0 93.33%,#60ff9f 0 95.56%,#56ffa9 0 97.78%,#4bffb4 0 100.00%)"></div><div style="background:linear-gradient(90deg,#a60000 0 2.22%,#b70000 0 4.44%,#c60000 0 6.67%,#d40000 0 8.89%,#e20000 0 11.11%,#f00000 0 13.33%,#fd0000 0 15.56%,#ff0b00 0 17.78%,#ff1700 0 20.00%,#ff2400 0 22.22%,#ff3000 0 24.44%,#ff3c00 0 26.67%,#ff4800 0 28.89%,#ff5400 0 31.11%,#ff6000 0 33.33%,#ff6b00 0 35.56%,#ff7700 0 37.78%,#ff8200 0 40.00%,#ff8d00 0 42.22%,#ff9800 0 44.44%,#ffa300 0 46.67%,#ffae00 0 48.89%,#ffb900 0 51.11%,#ffc400 0 53.33%,#ffcf00 0 55.56%,#ffda00 0 57.78%,#ffe400 0 60.00%,#ffef00 0 62.22%,#fffa00 0 64.44%,#faff05 0 66.67%,#efff10 0 68.89%,#e5ff1a 0 71.11%,#dbff24 0 73.33%,#d0ff2f 0 75.56%,#c6ff39 0 77.78%,#bcff43 0 80.00%,#b2ff4d 0 82.22%,#a8ff57 0 84.44%,#9eff61 0 86.67%,#94ff6b 0 88.89%,#8aff75 0 91.11%,#80ff7f 0 93.33%,#76ff89 0 95.56%,#6cff93 0 97.78%,#62ff9d 0 100.00%)"></div><div style="background:linear-gradient(90deg,#a50000 0 2.22%,#b50000 0 4.44%,#c30000 0 6.67%,#d10000 0 8.89%,#df0000 0 11.11%,#eb0000 0 13.33%,#f80000 0 15.56%,#ff0500 0 17.78%,#ff1100 0 20.00%,#ff1d00 0 22.22%,#ff2900 0 24.44%,#ff3500 0 26.67%,#ff4000 0 28.89%,#ff4b00 0 31.11%,#ff5600 0 33.33%,#ff6100 0 35.56%,#ff6c00 0 37.78%,#ff7700 0 40.00%,#ff8200 0 42.22%,#ff8d00 0 44.44%,#ff9700 0 46.67%,#ffa200 0 48.89%,#ffac00 0 51.11%,#ffb600 0 53.33%,#ffc100 0 55.56%,#ffcb00 0 57.78%,#ffd500 0 60.00%,#ffdf00 0 62.22%,#ffe900 0 64.44%,#fff300 0 66.67%,#fffd00 0 68.89%,#f7ff08 0 71.11%,#edff12 0 73.33%,#e3ff1c 0 75.56%,#d9ff26 0 77.78%,#cfff30 0 80.00%,#c6ff39 0 82.22%,#bcff43 0 84.44%,#b2ff4d 0 86.67%,#a9ff56 0 88.89%,#9fff60 0 91.11%,#96ff69 0 93.33%,#8cff73 0 95.56%,#83ff7c 0 97.78%,#79ff86 0 100.00%)"></div><div style="background:linear-gradient(90deg,#a40000 0 2.22%,#b30000 0 4.44%,#c10000 0 6.67%,#ce0000 0 8.89%,#db0000 0 11.11%,#e70000 0 13.33%,#f30000 0 15.56%,#ff0000 0 17.78%,#ff0b00 0 20.00%,#ff1700 0 22.22%,#ff2200 0 24.44%,#ff2d00 0 26.67%,#ff3800 0 28.89%,#ff4200 0 31.11%,#ff4d00 0 33.33%,#ff5800 0 35.56%,#ff6200 0 37.78%,#ff6c00 0 40.00%,#ff7700 0 42.22%,#ff8100 0 44.44%,#ff8b00 0 46.67%,#ff9500 0 48.89%,#ff9f00 0 51.11%,#ffa900 0 53.33%,#ffb300 0 55.56%,#ffbc00 0 57.78%,#ffc600 0 60.00%,#ffd000 0 62.22%,#ffd900 0 64.44%,#ffe300 0 66.67%,#ffec00 0 68.89%,#fff600 0 71.11%,#ffff00 0 73.33%,#f5ff0a 0 75.56%,#ecff13 0 77.78%,#e3ff1c 0 80.00%,#daff25 0 82.22%,#d0ff2f 0 84.44%,#c7ff38 0 86.67%,#beff41 0 88.89%,#b5ff4a 0 91.11%,#acff53 0 93.33%,#a3ff5c 0 95.56%,#9aff65 0 97.78%,#91ff6e 0 100.00%)"></div><div style="background:linear-gradient(90deg,#a30000 0 2.22%,#b20000 0 4.44%,#bf0000 0 6.67%,#cb0000 0 8.89%,#d70000 0 11.11%,#e30000 0 13.33%,#ee0000 0 15.56%,#f90000 0 17.78%,#ff0500 0 20.00%,#ff1000 0 22.22%,#ff1b00 0 24.44%,#ff2500 0 26.67%,#ff3000 0 28.89%,#ff3a00 0 31.11%,#ff4400 0 33.33%,#ff4e00 0 35.56%,#ff5800 0 37.78%,#ff6200 0 40.00%,#ff6b00 0 42.22%,#ff7500 0 44.44%,#ff7f00 0 46.67%,#ff8800 0 48.89%,#ff9200 0 51.11%,#ff9b00 0 53.33%,#ffa400 0 55.56%,#ffae00 0 57.78%,#ffb700 0 60.00%,#ffc000 0 62.22%,#ffc900 0 64.44%,#ffd200 0 66.67%,#ffdb00 0 68.89%,#ffe400 0 71.11%,#ffed00 0 73.33%,#fff600 0 75.56%,#ffff00 0 77.78%,#f6ff09 0 80.00%,#eeff11 0 82.22%,#e5ff1a 0 84.44%,#dcff23 0 86.67%,#d3ff2c 0 88.89%,#cbff34 0 91.11%,#c2ff3d 0 93.33%,#baff45 0 95.56%,#b1ff4e 0 97.78%,#a8ff57 0 100.00%)"></div><div style="background:linear-gradient(90deg,#a20000 0 2.22%,#b00000 0 4.44%,#bc0000 0 6.67%,#c80000 0 8.89%,#d40000 0 11.11%,#df0000 0 13.33%,#ea0000 0 15.56%,#f40000 0 17.78%,#fe0000 0 20.00%,#ff0a00 0 22.22%,#ff1400 0 24.44%,#ff1e00 0 26.67%,#ff2700 0 28.89%,#ff3100 0 31.11%,#ff3b00 0 33.33%,#ff4400 0 35.56%,#ff4d00 0 37.78%,#ff5700 0 40.00%,#ff6000 0 42.22%,#ff6900 0 44.44%,#ff7200 0 46.67%,#ff7b00 0 48.89%,#ff8400 0 51.11%,#ff8d00 0 53.33%,#ff9600 0 55.56%,#ff9f00 0 57.78%,#ffa700 0 60.00%,#ffb000 0 62.22%,#ffb900 0 64.44%,#ffc100 0 66.67%,#ffca00 0 68.89%,#ffd300 0 71.11%,#ffdb00 0 73.33%,#ffe300 0 75.56%,#ffec00 0 77.78%,#fff400 0 80.00%,#fffd00 0 82.22%,#f9ff06 0 84.44%,#f1ff0e 0 86.67%,#e9ff16 0 88.89%,#e0ff1f 0 91.11%,#d8ff27 0 93.33%,#d0ff2f 0 95.56%,#c8ff37 0 97.78%,#c0ff3f 0 100.00%)"></div><div style="background:linear-gradient(90deg,#a20000 0 2.22%,#ae0000 0 4.44%,#ba0000 0 6.67%,#c50000 0 8.89%,#d00000 0 11.11%,#da0000 0 13.33%,#e50000 0 15.56%,#ef0000 0 17.78%,#f80000 0 20.00%,#ff0300 0 22.22%,#ff0d00 0 24.44%,#ff1600 0 26.67%,#ff1f00 0 28.89%,#ff2800 0 31.11%,#ff3100 0 33.33%,#ff3a00 0 35.56%,#ff4300 0 37.78%,#ff4c00 0 40.00%,#ff5500 0 42.22%,#ff5d00 0 44.44%,#ff6600 0 46.67%,#ff6e00 0 48.89%,#ff7700 0 51.11%,#ff7f00 0 53.33%,#ff8800 0 55.56%,#ff9000 0 57.78%,#ff9800 0 60.00%,#ffa000 0 62.22%,#ffa900 0 64.44%,#ffb100 0 66.67%,#ffb900 0 68.89%,#ffc100 0 71.11%,#ffc900 0 73.33%,#ffd100 0 75.56%,#ffd900 0 77.78%,#ffe100 0 80.00%,#ffe900 0 82.22%,#fff000 0 84.44%,#fff800 0 86.67%,#feff01 0 88.89%,#f6ff09 0 91.11%,#eeff11 0 93.33%,#e7ff18 0 95.56%,#dfff20 0 97.78%,#d7ff28 0 100.00%)"></div><div style="background:linear-gradient(90deg,#a10000 0 2.22%,#ad0000 0 4.44%,#b80000 0 6.67%,#c20000 0 8.89%,#cc0000 0 11.11%,#d60000 0 13.33%,#e00000 0 15.56%,#e90000 0 17.78%,#f20000 0 20.00%,#fc0000 0 22.22%,#ff0500 0 24.44%,#ff0e00 0 26.67%,#ff1700 0 28.89%,#ff2000 0 31.11%,#ff2800 0 33.33%,#ff3100 0 35.56%,#ff3900 0 37.78%,#ff4100 0 40.00%,#ff4900 0 42.22%,#ff5200 0 44.44%,#ff5a00 0 46.67%,#ff6200 0 48.89%,#ff6a00 0 51.11%,#ff7200 0 53.33%,#ff7900 0 55.56%,#ff8100 0 57.78%,#ff8900 0 60.00%,#ff9100 0 62.22%,#ff9800 0 64.44%,#ffa000 0 66.67%,#ffa800 0 68.89%,#ffaf00 0 71.11%,#ffb700 0 73.33%,#ffbe00 0 75.56%,#ffc600 0 77.78%,#ffcd00 0 80.00%,#ffd500 0 82.22%,#ffdc00 0 84.44%,#ffe300 0 86.67%,#ffeb00 0 88.89%,#fff200 0 91.11%,#fff900 0 93.33%,#fdff02 0 95.56%,#f6ff09 0 97.78%,#efff10 0 100.00%)"></div><div style="background:linear-gradient(90deg,#a00000 0 2.22%,#ab0000 0 4.44%,#b50000 0 6.67%,#bf0000 0 8.89%,#c90000 0 11.11%,#d20000 0 13.33%,#db0000 0 15.56%,#e40000 0 17.78%,#ec0000 0 20.00%,#f50000 0 22.22%,#fd0000 0 24.44%,#ff0700 0 26.67%,#ff0f00 0 28.89%,#ff1700 0 31.11%,#ff1f00 0 33.33%,#ff2700 0 35.56%,#ff2f00 0 37.78%,#ff3600 0 40.00%,#ff3e00 0 42.22%,#ff4600 0 44.44%,#ff4d00 0 46.67%,#ff5500 0 48.89%,#ff5c00 0 51.11%,#ff6400 0 53.33%,#ff6b00 0 55.56%,#ff7200 0 57.78%,#ff7a00 0 60.00%,#ff8100 0 62.22%,#ff8800 0 64.44%,#ff8f00 0 66.67%,#ff9700 0 68.89%,#ff9e00 0 71.11%,#ffa500 0 73.33%,#ffac00 0 75.56%,#ffb300 0 77.78%,#ffba00 0 80.00%,#ffc100 0 82.22%,#ffc800 0 84.44%,#ffcf00 0 86.67%,#ffd500 0 88.89%,#ffdc00 0 91.11%,#ffe300 0 93.33%,#ffea00 0 95.56%,#fff100 0 97.78%,#fff700 0 100.00%)"></div><div style="background:linear-gradient(90deg,#9f0000 0 2.22%,#a90000 0 4.44%,#b30000 0 6.67%,#bd0000 0 8.89%,#c50000 0 11.11%,#ce0000 0 13.33%,#d70000 0 15.56%,#df0000 0 17.78%,#e70000 0 20.00%,#ef0000 0 22.22%,#f70000 0 24.44%,#ff0000 0 26.67%,#ff0700 0 28.89%,#ff0f00 0 31.11%,#ff1700 0 33.33%,#ff1e00 0 35.56%,#ff2500 0 37.78%,#ff2d00 0 40.00%,#ff3400 0 42.22%,#ff3b00 0 44.44%,#ff4200 0 46.67%,#ff4900 0 48.89%,#ff5000 0 51.11%,#ff5700 0 53.33%,#ff5e00 0 55.56%,#ff6500 0 57.78%,#ff6c00 0 60.00%,#ff7300 0 62.22%,#ff7a00 0 64.44%,#ff8100 0 66.67%,#ff8700 0 68.89%,#ff8e00 0 71.11%,#ff9500 0 73.33%,#ff9b00 0 75.56%,#ffa200 0 77.78%,#ffa800 0 80.00%,#ffaf00 0 82.22%,#ffb500 0 84.44%,#ffbc00 0 86.67%,#ffc200 0 88.89%,#ffc900 0 91.11%,#ffcf00 0 93.33%,#ffd600 0 95.56%,#ffdc00 0 97.78%,#ffe200 0 100.00%)"></div><div style="background:linear-gradient(90deg,#9e0000 0 2.22%,#a80000 0 4.44%,#b10000 0 6.67%,#ba0000 0 8.89%,#c20000 0 11.11%,#ca0000 0 13.33%,#d20000 0 15.56%,#da0000 0 17.78%,#e20000 0 20.00%,#e90000 0 22.22%,#f10000 0 24.44%,#f80000 0 26.67%,#ff0000 0 28.89%,#ff0700 0 31.11%,#ff0e00 0 33.33%,#ff1500 0 35.56%,#ff1c00 0 37.78%,#ff2300 0 40.00%,#ff2a00 0 42.22%,#ff3100 0 44.44%,#ff3700 0 46.67%,#ff3e00 0 48.89%,#ff4500 0 51.11%,#ff4b00 0 53.33%,#ff5200 0 55.56%,#ff5800 0 57.78%,#ff5f00 0 60.00%,#ff6500 0 62.22%,#ff6b00 0 64.44%,#ff7200 0 66.67%,#ff7800 0 68.89%,#ff7e00 0 71.11%,#ff8400 0 73.33%,#ff8b00 0 75.56%,#ff9100 0 77.78%,#ff9700 0 80.00%,#ff9d00 0 82.22%,#ffa300 0 84.44%,#ffa900 0 86.67%,#ffaf00 0 88.89%,#ffb500 0 91.11%,#ffbb00 0 93.33%,#ffc100 0 95.56%,#ffc700 0 97.78%,#ffcd00 0 100.00%)"></div><div style="background:linear-gradient(90deg,#9d0000 0 2.22%,#a60000 0 4.44%,#af0000 0 6.67%,#b70000 0 8.89%,#bf0000 0 11.11%,#c70000 0 13.33%,#ce0000 0 15.56%,#d50000 0 17.78%,#dc0000 0 20.00%,#e30000 0 22.22%,#ea0000 0 24.44%,#f10000 0 26.67%,#f80000 0 28.89%,#fe0000 0 31.11%,#ff0600 0 33.33%,#ff0d00 0 35.56%,#ff1300 0 37.78%,#ff1900 0 40.00%,#ff2000 0 42.22%,#ff2600 0 44.44%,#ff2c00 0 46.67%,#ff3200 0 48.89%,#ff3900 0 51.11%,#ff3f00 0 53.33%,#ff4500 0 55.56%,#ff4b00 0 57.78%,#ff5100 0 60.00%,#ff5700 0 62.22%,#ff5d00 0 64.44%,#ff6300 0 66.67%,#ff6900 0 68.89%,#ff6e00 0 71.11%,#ff7400 0 73.33%,#ff7a00 0 75.56%,#ff8000 0 77.78%,#ff8600 0 80.00%,#ff8b00 0 82.22%,#ff9100 0 84.44%,#ff9700 0 86.67%,#ff9c00 0 88.89%,#ffa200 0 91.11%,#ffa800 0 93.33%,#ffad00 0 95.56%,#ffb300 0 97.78%,#ffb800 0 100.00%)"></div><div style="background:linear-gradient(90deg,#9d0000 0 2.22%,#a50000 0 4.44%,#ae0000 0 6.67%,#b50000 0 8.89%,#bd0000 0 11.11%,#c40000 0 13.33%,#cb0000 0 15.56%,#d20000 0 17.78%,#d90000 0 20.00%,#df0000 0 22.22%,#e60000 0 24.44%,#ec0000 0 26.67%,#f30000 0 28.89%,#f90000 0 31.11%,#ff0000 0 33.33%,#ff0700 0 35.56%,#ff0d00 0 37.78%,#ff1300 0 40.00%,#ff1900 0 42.22%,#ff1f00 0 44.44%,#ff2500 0 46.67%,#ff2b00 0 48.89%,#ff3000 0 51.11%,#ff3600 0 53.33%,#ff3c00 0 55.56%,#ff4200 0 57.78%,#ff4700 0 60.00%,#ff4d00 0 62.22%,#ff5300 0 64.44%,#ff5800 0 66.67%,#ff5e00 0 68.89%,#ff6400 0 71.11%,#ff6900 0 73.33%,#ff6f00 0 75.56%,#ff7400 0 77.78%,#ff7a00 0 80.00%,#ff7f00 0 82.22%,#ff8400 0 84.44%,#ff8a00 0 86.67%,#ff8f00 0 88.89%,#ff9500 0 91.11%,#ff9a00 0 93.33%,#ff9f00 0 95.56%,#ffa500 0 97.78%,#ffaa00 0 100.00%)"></div><div style="background:linear-gradient(90deg,#9c0000 0 2.22%,#a40000 0 4.44%,#ac0000 0 6.67%,#b30000 0 8.89%,#bb0000 0 11.11%,#c10000 0 13.33%,#c80000 0 15.56%,#cf0000 0 17.78%,#d50000 0 20.00%,#db0000 0 22.22%,#e20000 0 24.44%,#e80000 0 26.67%,#ee0000 0 28.89%,#f40000 0 31.11%,#fa0000 0 33.33%,#ff0100 0 35.56%,#ff0600 0 37.78%,#ff0c00 0 40.00%,#ff1200 0 42.22%,#ff1700 0 44.44%,#ff1d00 0 46.67%,#ff2300 0 48.89%,#ff2800 0 51.11%,#ff2e00 0 53.33%,#ff3300 0 55.56%,#ff3900 0 57.78%,#ff3e00 0 60.00%,#ff4300 0 62.22%,#ff4900 0 64.44%,#ff4e00 0 66.67%,#ff5300 0 68.89%,#ff5900 0 71.11%,#ff5e00 0 73.33%,#ff6300 0 75.56%,#ff6800 0 77.78%,#ff6e00 0 80.00%,#ff7300 0 82.22%,#ff7800 0 84.44%,#ff7d00 0 86.67%,#ff8200 0 88.89%,#ff8700 0 91.11%,#ff8c00 0 93.33%,#ff9100 0 95.56%,#ff9600 0 97.78%,#ff9b00 0 100.00%)"></div><div style="background:linear-gradient(90deg,#9b0000 0 2.22%,#a30000 0 4.44%,#ab0000 0 6.67%,#b20000 0 8.89%,#b80000 0 11.11%,#bf0000 0 13.33%,#c50000 0 15.56%,#cb0000 0 17.78%,#d10000 0 20.00%,#d70000 0 22.22%,#dd0000 0 24.44%,#e30000 0 26.67%,#e90000 0 28.89%,#ee0000 0 31.11%,#f40000 0 33.33%,#fa0000 0 35.56%,#ff0000 0 37.78%,#ff0500 0 40.00%,#ff0b00 0 42.22%,#ff1000 0 44.44%,#ff1600 0 46.67%,#ff1b00 0 48.89%,#ff2000 0 51.11%,#ff2500 0 53.33%,#ff2a00 0 55.56%,#ff3000 0 57.78%,#ff3500 0 60.00%,#ff3a00 0 62.22%,#ff3f00 0 64.44%,#ff4400 0 66.67%,#ff4900 0 68.89%,#ff4e00 0 71.11%,#ff5300 0 73.33%,#ff5800 0 75.56%,#ff5d00 0 77.78%,#ff6200 0 80.00%,#ff6700 0 82.22%,#ff6b00 0 84.44%,#ff7000 0 86.67%,#ff7500 0 88.89%,#ff7a00 0 91.11%,#ff7f00 0 93.33%,#ff8300 0 95.56%,#ff8800 0 97.78%,#ff8d00 0 100.00%)"></div><div style="background:linear-gradient(90deg,#9b0000 0 2.22%,#a20000 0 4.44%,#a90000 0 6.67%,#b00000 0 8.89%,#b60000 0 11.11%,#bc0000 0 13.33%,#c20000 0 15.56%,#c80000 0 17.78%,#ce0000 0 20.00%,#d30000 0 22.22%,#d90000 0 24.44%,#de0000 0 26.67%,#e40000 0 28.89%,#e90000 0 31.11%,#ee0000 0 33.33%,#f40000 0 35.56%,#f90000 0 37.78%,#fe0000 0 40.00%,#ff0400 0 42.22%,#ff0900 0 44.44%,#ff0e00 0 46.67%,#ff1300 0 48.89%,#ff1800 0 51.11%,#ff1d00 0 53.33%,#ff2200 0 55.56%,#ff2700 0 57.78%,#ff2c00 0 60.00%,#ff3000 0 62.22%,#ff3500 0 64.44%,#ff3a00 0 66.67%,#ff3f00 0 68.89%,#ff4300 0 71.11%,#ff4800 0 73.33%,#ff4d00 0 75.56%,#ff5100 0 77.78%,#ff5600 0 80.00%,#ff5a00 0 82.22%,#ff5f00 0 84.44%,#ff6400 0 86.67%,#ff6800 0 88.89%,#ff6d00 0 91.11%,#ff7100 0 93.33%,#ff7600 0 95.56%,#ff7a00 0 97.78%,#ff7f00 0 100.00%)"></div><div style="background:linear-gradient(90deg,#9a0000 0 2.22%,#a10000 0 4.44%,#a80000 0 6.67%,#ae0000 0 8.89%,#b40000 0 11.11%,#ba0000 0 13.33%,#bf0000 0 15.56%,#c50000 0 17.78%,#ca0000 0 20.00%,#d00000 0 22.22%,#d50000 0 24.44%,#da0000 0 26.67%,#df0000 0 28.89%,#e40000 0 31.11%,#e90000 0 33.33%,#ee0000 0 35.56%,#f30000 0 37.78%,#f80000 0 40.00%,#fc0000 0 42.22%,#ff0200 0 44.44%,#ff0700 0 46.67%,#ff0c00 0 48.89%,#ff1000 0 51.11%,#ff1500 0 53.33%,#ff1a00 0 55.56%,#ff1e00 0 57.78%,#ff2300 0 60.00%,#ff2700 0 62.22%,#ff2c00 0 64.44%,#ff3000 0 66.67%,#ff3500 0 68.89%,#ff3900 0 71.11%,#ff3d00 0 73.33%,#ff4200 0 75.56%,#ff4600 0 77.78%,#ff4b00 0 80.00%,#ff4f00 0 82.22%,#ff5300 0 84.44%,#ff5700 0 86.67%,#ff5c00 0 88.89%,#ff6000 0 91.11%,#ff6400 0 93.33%,#ff6900 0 95.56%,#ff6d00 0 97.78%,#ff7100 0 100.00%)"></div><div style="background:linear-gradient(90deg,#9a0000 0 2.22%,#a00000 0 4.44%,#a60000 0 6.67%,#ac0000 0 8.89%,#b20000 0 11.11%,#b70000 0 13.33%,#bd0000 0 15.56%,#c20000 0 17.78%,#c70000 0 20.00%,#cc0000 0 22.22%,#d10000 0 24.44%,#d50000 0 26.67%,#da0000 0 28.89%,#df0000 0 31.11%,#e40000 0 33.33%,#e80000 0 35.56%,#ed0000 0 37.78%,#f10000 0 40.00%,#f60000 0 42.22%,#fa0000 0 44.44%,#ff0000 0 46.67%,#ff0400 0 48.89%,#ff0900 0 51.11%,#ff0d00 0 53.33%,#ff1100 0 55.56%,#ff1500 0 57.78%,#ff1a00 0 60.00%,#ff1e00 0 62.22%,#ff2200 0 64.44%,#ff2600 0 66.67%,#ff2b00 0 68.89%,#ff2f00 0 71.11%,#ff3300 0 73.33%,#ff3700 0 75.56%,#ff3b00 0 77.78%,#ff3f00 0 80.00%,#ff4300 0 82.22%,#ff4700 0 84.44%,#ff4b00 0 86.67%,#ff4f00 0 88.89%,#ff5300 0 91.11%,#ff5700 0 93.33%,#ff5b00 0 95.56%,#ff5f00 0 97.78%,#ff6300 0 100.00%)"></div><div style="background:linear-gradient(90deg,#990000 0 2.22%,#9f0000 0 4.44%,#a50000 0 6.67%,#ab0000 0 8.89%,#b00000 0 11.11%,#b50000 0 13.33%,#ba0000 0 15.56%,#bf0000 0 17.78%,#c30000 0 20.00%,#c80000 0 22.22%,#cc0000 0 24.44%,#d10000 0 26.67%,#d50000 0 28.89%,#da0000 0 31.11%,#de0000 0 33.33%,#e30000 0 35.56%,#e70000 0 37.78%,#eb0000 0 40.00%,#ef0000 0 42.22%,#f30000 0 44.44%,#f80000 0 46.67%,#fc0000 0 48.89%,#ff0100 0 51.11%,#ff0500 0 53.33%,#ff0900 0 55.56%,#ff0d00 0 57.78%,#ff1100 0 60.00%,#ff1500 0 62.22%,#ff1900 0 64.44%,#ff1d00 0 66.67%,#ff2100 0 68.89%,#ff2400 0 71.11%,#ff2800 0 73.33%,#ff2c00 0 75.56%,#ff3000 0 77.78%,#ff3400 0 80.00%,#ff3800 0 82.22%,#ff3b00 0 84.44%,#ff3f00 0 86.67%,#ff4300 0 88.89%,#ff4700 0 91.11%,#ff4a00 0 93.33%,#ff4e00 0 95.56%,#ff5200 0 97.78%,#ff5600 0 100.00%)"></div><div style="background:linear-gradient(90deg,#990000 0 2.22%,#9e0000 0 4.44%,#a40000 0 6.67%,#a90000 0 8.89%,#ae0000 0 11.11%,#b20000 0 13.33%,#b70000 0 15.56%,#bb0000 0 17.78%,#c00000 0 20.00%,#c40000 0 22.22%,#c80000 0 24.44%,#cd0000 0 26.67%,#d10000 0 28.89%,#d50000 0 31.11%,#d90000 0 33.33%,#dd0000 0 35.56%,#e10000 0 37.78%,#e50000 0 40.00%,#e90000 0 42.22%,#ed0000 0 44.44%,#f00000 0 46.67%,#f40000 0 48.89%,#f80000 0 51.11%,#fc0000 0 53.33%,#ff0100 0 55.56%,#ff0400 0 57.78%,#ff0800 0 60.00%,#ff0c00 0 62.22%,#ff0f00 0 64.44%,#ff1300 0 66.67%,#ff1700 0 68.89%,#ff1a00 0 71.11%,#ff1e00 0 73.33%,#ff2100 0 75.56%,#ff2500 0 77.78%,#ff2800 0 80.00%,#ff2c00 0 82.22%,#ff3000 0 84.44%,#ff3300 0 86.67%,#ff3700 0 88.89%,#ff3a00 0 91.11%,#ff3d00 0 93.33%,#ff4100 0 95.56%,#ff4400 0 97.78%,#ff4800 0 100.00%)"></div><div style="background:linear-gradient(90deg,#980000 0 2.22%,#9d0000 0 4.44%,#a20000 0 6.67%,#a70000 0 8.89%,#ab0000 0 11.11%,#b00000 0 13.33%,#b40000 0 15.56%,#b80000 0 17.78%,#bc0000 0 20.00%,#c00000 0 22.22%,#c40000 0 24.44%,#c80000 0 26.67%,#cc0000 0 28.89%,#d00000 0 31.11%,#d30000 0 33.33%,#d70000 0 35.56%,#db0000 0 37.78%,#de0000 0 40.00%,#e20000 0 42.22%,#e60000 0 44.44%,#e90000 0 46.67%,#ed0000 0 48.89%,#f00000 0 51.11%,#f40000 0 53.33%,#f70000 0 55.56%,#fb0000 0 57.78%,#fe0000 0 60.00%,#ff0200 0 62.22%,#ff0600 0 64.44%,#ff0900 0 66.67%,#ff0d00 0 68.89%,#ff1000 0 71.11%,#ff1300 0 73.33%,#ff1700 0 75.56%,#ff1a00 0 77.78%,#ff1d00 0 80.00%,#ff2000 0 82.22%,#ff2400 0 84.44%,#ff2700 0 86.67%,#ff2a00 0 88.89%,#ff2d00 0 91.11%,#ff3100 0 93.33%,#ff3400 0 95.56%,#ff3700 0 97.78%,#ff3a00 0 100.00%)"></div><div style="background:linear-gradient(90deg,#980000 0 2.22%,#9d0000 0 4.44%,#a10000 0 6.67%,#a50000 0 8.89%,#a90000 0 11.11%,#ad0000 0 13.33%,#b10000 0 15.56%,#b50000 0 17.78%,#b90000 0 20.00%,#bc0000 0 22.22%,#c00000 0 24.44%,#c40000 0 26.67%,#c70000 0 28.89%,#cb0000 0 31.11%,#ce0000 0 33.33%,#d10000 0 35.56%,#d50000 0 37.78%,#d80000 0 40.00%,#db0000 0 42.22%,#df0000 0 44.44%,#e20000 0 46.67%,#e50000 0 48.89%,#e90000 0 51.11%,#ec0000 0 53.33%,#ef0000 0 55.56%,#f20000 0 57.78%,#f50000 0 60.00%,#f80000 0 62.22%,#fb0000 0 64.44%,#ff0000 0 66.67%,#ff0300 0 68.89%,#ff0600 0 71.11%,#ff0900 0 73.33%,#ff0c00 0 75.56%,#ff0f00 0 77.78%,#ff1200 0 80.00%,#ff1500 0 82.22%,#ff1800 0 84.44%,#ff1b00 0 86.67%,#ff1e00 0 88.89%,#ff2100 0 91.11%,#ff2400 0 93.33%,#ff2700 0 95.56%,#ff2900 0 97.78%,#ff2c00 0 100.00%)"></div><div style="background:linear-gradient(90deg,#970000 0 2.22%,#9c0000 0 4.44%,#a00000 0 6.67%,#a40000 0 8.89%,#a70000 0 11.11%,#ab0000 0 13.33%,#af0000 0 15.56%,#b20000 0 17.78%,#b60000 0 20.00%,#b90000 0 22.22%,#bc0000 0 24.44%,#c00000 0 26.67%,#c30000 0 28.89%,#c60000 0 31.11%,#c90000 0 33.33%,#cc0000 0 35.56%,#cf0000 0 37.78%,#d20000 0 40.00%,#d50000 0 42.22%,#d80000 0 44.44%,#db0000 0 46.67%,#de0000 0 48.89%,#e10000 0 51.11%,#e40000 0 53.33%,#e70000 0 55.56%,#ea0000 0 57.78%,#ed0000 0 60.00%,#f00000 0 62.22%,#f30000 0 64.44%,#f60000 0 66.67%,#f80000 0 68.89%,#fb0000 0 71.11%,#fe0000 0 73.33%,#ff0200 0 75.56%,#ff0500 0 77.78%,#ff0700 0 80.00%,#ff0a00 0 82.22%,#ff0d00 0 84.44%,#ff1000 0 86.67%,#ff1200 0 88.89%,#ff1500 0 91.11%,#ff1800 0 93.33%,#ff1a00 0 95.56%,#ff1d00 0 97.78%,#ff2000 0 100.00%)"></div><div style="background:linear-gradient(90deg,#970000 0 2.22%,#9b0000 0 4.44%,#9e0000 0 6.67%,#a20000 0 8.89%,#a50000 0 11.11%,#a90000 0 13.33%,#ac0000 0 15.56%,#af0000 0 17.78%,#b20000 0 20.00%,#b50000 0 22.22%,#b80000 0 24.44%,#bb0000 0 26.67%,#be0000 0 28.89%,#c10000 0 31.11%,#c40000 0 33.33%,#c70000 0 35.56%,#ca0000 0 37.78%,#cd0000 0 40.00%,#cf0000 0 42.22%,#d20000 0 44.44%,#d50000 0 46.67%,#d80000 0 48.89%,#da0000 0 51.11%,#dd0000 0 53.33%,#e00000 0 55.56%,#e20000 0 57.78%,#e50000 0 60.00%,#e80000 0 62.22%,#ea0000 0 64.44%,#ed0000 0 66.67%,#ef0000 0 68.89%,#f20000 0 71.11%,#f40000 0 73.33%,#f70000 0 75.56%,#f90000 0 77.78%,#fc0000 0 80.00%,#ff0000 0 82.22%,#ff0200 0 84.44%,#ff0400 0 86.67%,#ff0700 0 88.89%,#ff0900 0 91.11%,#ff0c00 0 93.33%,#ff0e00 0 95.56%,#ff1100 0 97.78%,#ff1300 0 100.00%)"></div><div style="background:linear-gradient(90deg,#960000 0 2.22%,#9a0000 0 4.44%,#9d0000 0 6.67%,#a00000 0 8.89%,#a40000 0 11.11%,#a70000 0 13.33%,#a90000 0 15.56%,#ac0000 0 17.78%,#af0000 0 20.00%,#b20000 0 22.22%,#b50000 0 24.44%,#b70000 0 26.67%,#ba0000 0 28.89%,#bd0000 0 31.11%,#bf0000 0 33.33%,#c20000 0 35.56%,#c40000 0 37.78%,#c70000 0 40.00%,#c90000 0 42.22%,#cc0000 0 44.44%,#ce0000 0 46.67%,#d10000 0 48.89%,#d30000 0 51.11%,#d60000 0 53.33%,#d80000 0 55.56%,#da0000 0 57.78%,#dd0000 0 60.00%,#df0000 0 62.22%,#e10000 0 64.44%,#e40000 0 66.67%,#e60000 0 68.89%,#e80000 0 71.11%,#eb0000 0 73.33%,#ed0000 0 75.56%,#ef0000 0 77.78%,#f20000 0 80.00%,#f40000 0 82.22%,#f60000 0 84.44%,#f80000 0 86.67%,#fb0000 0 88.89%,#fd0000 0 91.11%,#ff0000 0 93.33%,#ff0200 0 95.56%,#ff0400 0 97.78%,#ff0700 0 100.00%)"></div><div style="background:linear-gradient(90deg,#960000 0 2.22%,#990000 0 4.44%,#9c0000 0 6.67%,#9f0000 0 8.89%,#a20000 0 11.11%,#a40000 0 13.33%,#a70000 0 15.56%,#a90000 0 17.78%,#ac0000 0 20.00%,#ae0000 0 22.22%,#b10000 0 24.44%,#b30000 0 26.67%,#b60000 0 28.89%,#b80000 0 31.11%,#ba0000 0 33.33%,#bd0000 0 35.56%,#bf0000 0 37.78%,#c10000 0 40.00%,#c30000 0 42.22%,#c60000 0 44.44%,#c80000 0 46.67%,#ca0000 0 48.89%,#cc0000 0 51.11%,#ce0000 0 53.33%,#d00000 0 55.56%,#d30000 0 57.78%,#d50000 0 60.00%,#d70000 0 62.22%,#d90000 0 64.44%,#db0000 0 66.67%,#dd0000 0 68.89%,#df0000 0 71.11%,#e10000 0 73.33%,#e30000 0 75.56%,#e50000 0 77.78%,#e70000 0 80.00%,#e90000 0 82.22%,#eb0000 0 84.44%,#ed0000 0 86.67%,#ef0000 0 88.89%,#f10000 0 91.11%,#f30000 0 93.33%,#f50000 0 95.56%,#f70000 0 97.78%,#f90000 0 100.00%)"></div><div style="background:linear-gradient(90deg,#950000 0 2.22%,#980000 0 4.44%,#9b0000 0 6.67%,#9d0000 0 8.89%,#a00000 0 11.11%,#a20000 0 13.33%,#a40000 0 15.56%,#a70000 0 17.78%,#a90000 0 20.00%,#ab0000 0 22.22%,#ad0000 0 24.44%,#af0000 0 26.67%,#b10000 0 28.89%,#b30000 0 31.11%,#b50000 0 33.33%,#b70000 0 35.56%,#b90000 0 37.78%,#bb0000 0 40.00%,#bd0000 0 42.22%,#bf0000 0 44.44%,#c10000 0 46.67%,#c30000 0 48.89%,#c50000 0 51.11%,#c70000 0 53.33%,#c90000 0 55.56%,#cb0000 0 57.78%,#cd0000 0 60.00%,#ce0000 0 62.22%,#d00000 0 64.44%,#d20000 0 66.67%,#d40000 0 68.89%,#d60000 0 71.11%,#d70000 0 73.33%,#d90000 0 75.56%,#db0000 0 77.78%,#dd0000 0 80.00%,#df0000 0 82.22%,#e00000 0 84.44%,#e20000 0 86.67%,#e40000 0 88.89%,#e60000 0 91.11%,#e70000 0 93.33%,#e90000 0 95.56%,#eb0000 0 97.78%,#ed0000 0 100.00%)"></div><div style="background:linear-gradient(90deg,#950000 0 2.22%,#970000 0 4.44%,#990000 0 6.67%,#9c0000 0 8.89%,#9e0000 0 11.11%,#a00000 0 13.33%,#a20000 0 15.56%,#a40000 0 17.78%,#a60000 0 20.00%,#a70000 0 22.22%,#a90000 0 24.44%,#ab0000 0 26.67%,#ad0000 0 28.89%,#af0000 0 31.11%,#b00000 0 33.33%,#b20000 0 35.56%,#b40000 0 37.78%,#b60000 0 40.00%,#b70000 0 42.22%,#b90000 0 44.44%,#bb0000 0 46.67%,#bc0000 0 48.89%,#be0000 0 51.11%,#c00000 0 53.33%,#c10000 0 55.56%,#c30000 0 57.78%,#c40000 0 60.00%,#c60000 0 62.22%,#c80000 0 64.44%,#c90000 0 66.67%,#cb0000 0 68.89%,#cc0000 0 71.11%,#ce0000 0 73.33%,#cf0000 0 75.56%,#d10000 0 77.78%,#d20000 0 80.00%,#d40000 0 82.22%,#d50000 0 84.44%,#d70000 0 86.67%,#d90000 0 88.89%,#da0000 0 91.11%,#dc0000 0 93.33%,#dd0000 0 95.56%,#df0000 0 97.78%,#e00000 0 100.00%)"></div><div style="background:linear-gradient(90deg,#940000 0 2.22%,#960000 0 4.44%,#980000 0 6.67%,#9a0000 0 8.89%,#9c0000 0 11.11%,#9d0000 0 13.33%,#9f0000 0 15.56%,#a10000 0 17.78%,#a20000 0 20.00%,#a40000 0 22.22%,#a50000 0 24.44%,#a70000 0 26.67%,#a90000 0 28.89%,#aa0000 0 31.11%,#ab0000 0 33.33%,#ad0000 0 35.56%,#ae0000 0 37.78%,#b00000 0 40.00%,#b10000 0 42.22%,#b30000 0 44.44%,#b40000 0 46.67%,#b50000 0 48.89%,#b70000 0 51.11%,#b80000 0 53.33%,#ba0000 0 55.56%,#bb0000 0 57.78%,#bc0000 0 60.00%,#be0000 0 62.22%,#bf0000 0 64.44%,#c00000 0 66.67%,#c20000 0 68.89%,#c30000 0 71.11%,#c40000 0 73.33%,#c50000 0 75.56%,#c70000 0 77.78%,#c80000 0 80.00%,#c90000 0 82.22%,#cb0000 0 84.44%,#cc0000 0 86.67%,#cd0000 0 88.89%,#ce0000 0 91.11%,#d00000 0 93.33%,#d10000 0 95.56%,#d20000 0 97.78%,#d30000 0 100.00%)"></div><div style="background:linear-gradient(90deg,#940000 0 2.22%,#950000 0 4.44%,#970000 0 6.67%,#980000 0 8.89%,#9a0000 0 11.11%,#9b0000 0 13.33%,#9d0000 0 15.56%,#9e0000 0 17.78%,#9f0000 0 20.00%,#a00000 0 22.22%,#a20000 0 24.44%,#a30000 0 26.67%,#a40000 0 28.89%,#a50000 0 31.11%,#a70000 0 33.33%,#a80000 0 35.56%,#a90000 0 37.78%,#aa0000 0 40.00%,#ab0000 0 42.22%,#ac0000 0 44.44%,#ad0000 0 46.67%,#af0000 0 48.89%,#b00000 0 51.11%,#b10000 0 53.33%,#b20000 0 55.56%,#b30000 0 57.78%,#b40000 0 60.00%,#b50000 0 62.22%,#b60000 0 64.44%,#b70000 0 66.67%,#b80000 0 68.89%,#b90000 0 71.11%,#bb0000 0 73.33%,#bc0000 0 75.56%,#bd0000 0 77.78%,#be0000 0 80.00%,#bf0000 0 82.22%,#c00000 0 84.44%,#c10000 0 86.67%,#c20000 0 88.89%,#c30000 0 91.11%,#c40000 0 93.33%,#c50000 0 95.56%,#c60000 0 97.78%,#c70000 0 100.00%)"></div></div>
<div class="hm" style="left:59px;top:355.3px;width:139.60px;height:189.50px;grid-template-rows:repeat(49,1fr)"><div style="background:linear-gradient(90deg,#ffffe6 0 2.22%,#ffffe4 0 4.44%,#ffffe2 0 6.67%,#ffffdf 0 8.89%,#ffffdc 0 11.11%,#ffffd9 0 13.33%,#ffffd5 0 15.56%,#ffffd1 0 17.78%,#ffffcc 0 20.00%,#ffffc7 0 22.22%,#ffffc2 0 24.44%,#ffffbd 0 26.67%,#ffffb7 0 28.89%,#ffffb1 0 31.11%,#ffffaa 0 33.33%,#ffffa4 0 35.56%,#ffff9d 0 37.78%,#ffff96 0 40.00%,#ffff8f 0 42.22%,#ffff87 0 44.44%,#ffff7f 0 46.67%,#ffff77 0 48.89%,#ffff6f 0 51.11%,#ffff67 0 53.33%,#ffff5e 0 55.56%,#ffff55 0 57.78%,#ffff4c 0 60.00%,#ffff43 0 62.22%,#ffff3a 0 64.44%,#ffff30 0 66.67%,#ffff26 0 68.89%,#ffff1c 0 71.11%,#ffff12 0 73.33%,#ffff07 0 75.56%,#fffd00 0 77.78%,#fff600 0 80.00%,#ffee00 0 82.22%,#ffe700 0 84.44%,#ffdf00 0 86.67%,#ffd800 0 88.89%,#ffd000 0 91.11%,#ffc800 0 93.33%,#ffc000 0 95.56%,#ffb800 0 97.78%,#ffb000 0 100.00%)"></div><div style="background:linear-gradient(90deg,#ffffe7 0 2.22%,#ffffe6 0 6.67%,#ffffe5 0 8.89%,#ffffe4 0 13.33%,#ffffe3 0 15.56%,#ffffe2 0 17.78%,#ffffe1 0 20.00%,#ffffdf 0 22.22%,#ffffde 0 24.44%,#ffffdd 0 26.67%,#ffffdc 0 28.89%,#ffffda 0 31.11%,#ffffd9 0 33.33%,#ffffd7 0 35.56%,#ffffd6 0 37.78%,#ffffd4 0 40.00%,#ffffd2 0 42.22%,#ffffd1 0 44.44%,#ffffcf 0 46.67%,#ffffcd 0 48.89%,#ffffcb 0 51.11%,#ffffc9 0 53.33%,#ffffc7 0 55.56%,#ffffc5 0 57.78%,#ffffc3 0 60.00%,#ffffc1 0 62.22%,#ffffbf 0 64.44%,#ffffbd 0 66.67%,#ffffba 0 68.89%,#ffffb8 0 71.11%,#ffffb6 0 73.33%,#ffffb3 0 75.56%,#ffffb1 0 77.78%,#ffffae 0 80.00%,#ffffac 0 82.22%,#ffffa9 0 84.44%,#ffffa7 0 86.67%,#ffffa4 0 88.89%,#ffffa1 0 91.11%,#ffff9e 0 93.33%,#ffff9c 0 95.56%,#ffff99 0 97.78%,#ffff96 0 100.00%)"></div><div style="background:linear-gradient(90deg,#ffffe7 0 4.44%,#ffffe6 0 13.33%,#ffffe5 0 20.00%,#ffffe4 0 24.44%,#ffffe3 0 31.11%,#ffffe2 0 35.56%,#ffffe1 0 40.00%,#ffffe0 0 42.22%,#ffffdf 0 46.67%,#ffffde 0 51.11%,#ffffdd 0 53.33%,#ffffdc 0 57.78%,#ffffdb 0 60.00%,#ffffda 0 62.22%,#ffffd9 0 66.67%,#ffffd8 0 68.89%,#ffffd7 0 71.11%,#ffffd6 0 75.56%,#ffffd5 0 77.78%,#ffffd4 0 80.00%,#ffffd3 0 82.22%,#ffffd2 0 84.44%,#ffffd1 0 86.67%,#ffffd0 0 91.11%,#ffffcf 0 93.33%,#ffffce 0 95.56%,#ffffcd 0 97.78%,#ffffcc 0 100.00%)"></div><div style="background:linear-gradient(90deg,#ffffe6 0 2.22%,#ffffe5 0 4.44%,#ffffe3 0 6.67%,#ffffe1 0 8.89%,#ffffde 0 11.11%,#ffffdb 0 13.33%,#ffffd8 0 15.56%,#ffffd4 0 17.78%,#ffffd0 0 20.00%,#ffffcc 0 22.22%,#ffffc8 0 24.44%,#ffffc3 0 26.67%,#ffffbe 0 28.89%,#ffffb9 0 31.11%,#ffffb4 0 33.33%,#ffffae 0 35.56%,#ffffa8 0 37.78%,#ffffa2 0 40.00%,#ffff9c 0 42.22%,#ffff96 0 44.44%,#ffff8f 0 46.67%,#ffff89 0 48.89%,#ffff82 0 51.11%,#ffff7a 0 53.33%,#ffff73 0 55.56%,#ffff6c 0 57.78%,#ffff64 0 60.00%,#ffff5c 0 62.22%,#ffff54 0 64.44%,#ffff4c 0 66.67%,#ffff44 0 68.89%,#ffff3b 0 71.11%,#ffff32 0 73.33%,#ffff2a 0 75.56%,#ffff21 0 77.78%,#ffff18 0 80.00%,#ffff0e 0 82.22%,#ffff05 0 84.44%,#fffc00 0 86.67%,#fff500 0 88.89%,#ffef00 0 91.11%,#ffe800 0 93.33%,#ffe100 0 95.56%,#ffda00 0 97.78%,#ffd300 0 100.00%)"></div><div style="background:linear-gradient(90deg,#ffffe5 0 2.22%,#ffffe3 0 4.44%,#ffffdf 0 6.67%,#ffffdb 0 8.89%,#ffffd6 0 11.11%,#ffffd0 0 13.33%,#ffffca 0 15.56%,#ffffc3 0 17.78%,#ffffbc 0 20.00%,#ffffb4 0 22.22%,#ffffab 0 24.44%,#ffffa3 0 26.67%,#ffff99 0 28.89%,#ffff8f 0 31.11%,#ffff85 0 33.33%,#ffff7b 0 35.56%,#ffff70 0 37.78%,#ffff64 0 40.00%,#ffff58 0 42.22%,#ffff4c 0 44.44%,#ffff40 0 46.67%,#ffff33 0 48.89%,#ffff26 0 51.11%,#ffff18 0 53.33%,#ffff0a 0 55.56%,#fffc00 0 57.78%,#fff200 0 60.00%,#ffe800 0 62.22%,#ffde00 0 64.44%,#ffd400 0 66.67%,#ffc900 0 68.89%,#ffbe00 0 71.11%,#ffb300 0 73.33%,#ffa800 0 75.56%,#ff9d00 0 77.78%,#ff9100 0 80.00%,#ff8500 0 82.22%,#ff7900 0 84.44%,#ff6d00 0 86.67%,#ff6100 0 88.89%,#ff5400 0 91.11%,#ff4700 0 93.33%,#ff3a00 0 95.56%,#ff2d00 0 97.78%,#ff2000 0 100.00%)"></div><div style="background:linear-gradient(90deg,#ffffe5 0 2.22%,#ffffe1 0 4.44%,#ffffdc 0 6.67%,#ffffd5 0 8.89%,#ffffce 0 11.11%,#ffffc6 0 13.33%,#ffffbc 0 15.56%,#ffffb2 0 17.78%,#ffffa7 0 20.00%,#ffff9c 0 22.22%,#ffff8f 0 24.44%,#ffff82 0 26.67%,#ffff74 0 28.89%,#ffff66 0 31.11%,#ffff57 0 33.33%,#ffff47 0 35.56%,#ffff37 0 37.78%,#ffff26 0 40.00%,#ffff15 0 42.22%,#ffff03 0 44.44%,#fff500 0 46.67%,#ffe800 0 48.89%,#ffdb00 0 51.11%,#ffcd00 0 53.33%,#ffc000 0 55.56%,#ffb200 0 57.78%,#ffa300 0 60.00%,#ff9400 0 62.22%,#ff8500 0 64.44%,#ff7600 0 66.67%,#ff6600 0 68.89%,#ff5600 0 71.11%,#ff4600 0 73.33%,#ff3600 0 75.56%,#ff2500 0 77.78%,#ff1400 0 80.00%,#ff0200 0 82.22%,#ef0000 0 84.44%,#dd0000 0 86.67%,#cb0000 0 88.89%,#b90000 0 91.11%,#a60000 0 93.33%,#930000 0 95.56%,#7f0000 0 97.78%,#6c0000 0 100.00%)"></div><div style="background:linear-gradient(90deg,#ffffe5 0 2.22%,#ffffe1 0 4.44%,#ffffdb 0 6.67%,#ffffd4 0 8.89%,#ffffcc 0 11.11%,#ffffc3 0 13.33%,#ffffb9 0 15.56%,#ffffaf 0 17.78%,#ffffa3 0 20.00%,#ffff97 0 22.22%,#ffff89 0 24.44%,#ffff7c 0 26.67%,#ffff6d 0 28.89%,#ffff5e 0 31.11%,#ffff4e 0 33.33%,#ffff3d 0 35.56%,#ffff2c 0 37.78%,#ffff1a 0 40.00%,#ffff07 0 42.22%,#fff700 0 44.44%,#ffea00 0 46.67%,#ffdc00 0 48.89%,#ffcf00 0 51.11%,#ffc000 0 53.33%,#ffb200 0 55.56%,#ffa300 0 57.78%,#ff9300 0 60.00%,#ff8400 0 62.22%,#ff7400 0 64.44%,#ff6300 0 66.67%,#ff5300 0 68.89%,#ff4200 0 71.11%,#ff3000 0 73.33%,#ff1f00 0 75.56%,#ff0d00 0 77.78%,#fa0000 0 80.00%,#e70000 0 82.22%,#d40000 0 84.44%,#c10000 0 86.67%,#ad0000 0 88.89%,#9a0000 0 91.11%,#860000 0 93.33%,#710000 0 95.56%,#5d0000 0 97.78%,#480000 0 100.00%)"></div><div style="background:linear-gradient(90deg,#ffffe5 0 2.22%,#ffffe2 0 4.44%,#ffffdf 0 6.67%,#ffffda 0 8.89%,#ffffd4 0 11.11%,#ffffce 0 13.33%,#ffffc7 0 15.56%,#ffffc0 0 17.78%,#ffffb8 0 20.00%,#ffffaf 0 22.22%,#ffffa6 0 24.44%,#ffff9c 0 26.67%,#ffff92 0 28.89%,#ffff87 0 31.11%,#ffff7c 0 33.33%,#ffff70 0 35.56%,#ffff64 0 37.78%,#ffff58 0 40.00%,#ffff4b 0 42.22%,#ffff3e 0 44.44%,#ffff30 0 46.67%,#ffff22 0 48.89%,#ffff13 0 51.11%,#ffff04 0 53.33%,#fff800 0 55.56%,#ffed00 0 57.78%,#ffe300 0 60.00%,#ffd800 0 62.22%,#ffcd00 0 64.44%,#ffc100 0 66.67%,#ffb600 0 68.89%,#ffaa00 0 71.11%,#ff9e00 0 73.33%,#ff9100 0 75.56%,#ff8500 0 77.78%,#ff7800 0 80.00%,#ff6b00 0 82.22%,#ff5e00 0 84.44%,#ff5100 0 86.67%,#ff4300 0 88.89%,#ff3500 0 91.11%,#ff2700 0 93.33%,#ff1900 0 95.56%,#ff0b00 0 97.78%,#fb0000 0 100.00%)"></div><div style="background:linear-gradient(90deg,#ffffe6 0 2.22%,#ffffe4 0 4.44%,#ffffe2 0 6.67%,#ffffdf 0 8.89%,#ffffdc 0 11.11%,#ffffd9 0 13.33%,#ffffd5 0 15.56%,#ffffd1 0 17.78%,#ffffcc 0 20.00%,#ffffc7 0 22.22%,#ffffc2 0 24.44%,#ffffbd 0 26.67%,#ffffb7 0 28.89%,#ffffb1 0 31.11%,#ffffaa 0 33.33%,#ffffa4 0 35.56%,#ffff9d 0 37.78%,#ffff96 0 40.00%,#ffff8f 0 42.22%,#ffff87 0 44.44%,#ffff7f 0 46.67%,#ffff77 0 48.89%,#ffff6f 0 51.11%,#ffff67 0 53.33%,#ffff5e 0 55.56%,#ffff55 0 57.78%,#ffff4c 0 60.00%,#ffff43 0 62.22%,#ffff3a 0 64.44%,#ffff30 0 66.67%,#ffff26 0 68.89%,#ffff1c 0 71.11%,#ffff12 0 73.33%,#ffff07 0 75.56%,#fffd00 0 77.78%,#fff600 0 80.00%,#ffee00 0 82.22%,#ffe700 0 84.44%,#ffdf00 0 86.67%,#ffd800 0 88.89%,#ffd000 0 91.11%,#ffc800 0 93.33%,#ffc000 0 95.56%,#ffb800 0 97.78%,#ffb000 0 100.00%)"></div><div style="background:linear-gradient(90deg,#ffffe7 0 2.22%,#ffffe6 0 6.67%,#ffffe5 0 8.89%,#ffffe4 0 13.33%,#ffffe3 0 15.56%,#ffffe2 0 17.78%,#ffffe1 0 20.00%,#ffffdf 0 22.22%,#ffffde 0 24.44%,#ffffdd 0 26.67%,#ffffdc 0 28.89%,#ffffda 0 31.11%,#ffffd9 0 33.33%,#ffffd7 0 35.56%,#ffffd6 0 37.78%,#ffffd4 0 40.00%,#ffffd2 0 42.22%,#ffffd1 0 44.44%,#ffffcf 0 46.67%,#ffffcd 0 48.89%,#ffffcb 0 51.11%,#ffffc9 0 53.33%,#ffffc7 0 55.56%,#ffffc5 0 57.78%,#ffffc3 0 60.00%,#ffffc1 0 62.22%,#ffffbf 0 64.44%,#ffffbd 0 66.67%,#ffffba 0 68.89%,#ffffb8 0 71.11%,#ffffb6 0 73.33%,#ffffb3 0 75.56%,#ffffb1 0 77.78%,#ffffae 0 80.00%,#ffffac 0 82.22%,#ffffa9 0 84.44%,#ffffa7 0 86.67%,#ffffa4 0 88.89%,#ffffa1 0 91.11%,#ffff9e 0 93.33%,#ffff9c 0 95.56%,#ffff99 0 97.78%,#ffff96 0 100.00%)"></div><div style="background:linear-gradient(90deg,#ffffe7 0 4.44%,#ffffe6 0 13.33%,#ffffe5 0 20.00%,#ffffe4 0 24.44%,#ffffe3 0 31.11%,#ffffe2 0 35.56%,#ffffe1 0 40.00%,#ffffe0 0 42.22%,#ffffdf 0 46.67%,#ffffde 0 51.11%,#ffffdd 0 53.33%,#ffffdc 0 57.78%,#ffffdb 0 60.00%,#ffffda 0 62.22%,#ffffd9 0 66.67%,#ffffd8 0 68.89%,#ffffd7 0 71.11%,#ffffd6 0 75.56%,#ffffd5 0 77.78%,#ffffd4 0 80.00%,#ffffd3 0 82.22%,#ffffd2 0 84.44%,#ffffd1 0 86.67%,#ffffd0 0 91.11%,#ffffcf 0 93.33%,#ffffce 0 95.56%,#ffffcd 0 97.78%,#ffffcc 0 100.00%)"></div><div style="background:linear-gradient(90deg,#ffffe6 0 2.22%,#ffffe5 0 4.44%,#ffffe3 0 6.67%,#ffffe1 0 8.89%,#ffffde 0 11.11%,#ffffdb 0 13.33%,#ffffd8 0 15.56%,#ffffd4 0 17.78%,#ffffd0 0 20.00%,#ffffcc 0 22.22%,#ffffc8 0 24.44%,#ffffc3 0 26.67%,#ffffbe 0 28.89%,#ffffb9 0 31.11%,#ffffb4 0 33.33%,#ffffae 0 35.56%,#ffffa8 0 37.78%,#ffffa2 0 40.00%,#ffff9c 0 42.22%,#ffff96 0 44.44%,#ffff8f 0 46.67%,#ffff89 0 48.89%,#ffff82 0 51.11%,#ffff7a 0 53.33%,#ffff73 0 55.56%,#ffff6c 0 57.78%,#ffff64 0 60.00%,#ffff5c 0 62.22%,#ffff54 0 64.44%,#ffff4c 0 66.67%,#ffff44 0 68.89%,#ffff3b 0 71.11%,#ffff32 0 73.33%,#ffff2a 0 75.56%,#ffff21 0 77.78%,#ffff18 0 80.00%,#ffff0e 0 82.22%,#ffff05 0 84.44%,#fffc00 0 86.67%,#fff500 0 88.89%,#ffef00 0 91.11%,#ffe800 0 93.33%,#ffe100 0 95.56%,#ffda00 0 97.78%,#ffd300 0 100.00%)"></div><div style="background:linear-gradient(90deg,#ffffe5 0 2.22%,#ffffe3 0 4.44%,#ffffdf 0 6.67%,#ffffdb 0 8.89%,#ffffd6 0 11.11%,#ffffd0 0 13.33%,#ffffca 0 15.56%,#ffffc3 0 17.78%,#ffffbc 0 20.00%,#ffffb4 0 22.22%,#ffffab 0 24.44%,#ffffa3 0 26.67%,#ffff99 0 28.89%,#ffff8f 0 31.11%,#ffff85 0 33.33%,#ffff7b 0 35.56%,#ffff70 0 37.78%,#ffff64 0 40.00%,#ffff58 0 42.22%,#ffff4c 0 44.44%,#ffff40 0 46.67%,#ffff33 0 48.89%,#ffff26 0 51.11%,#ffff18 0 53.33%,#ffff0a 0 55.56%,#fffc00 0 57.78%,#fff200 0 60.00%,#ffe800 0 62.22%,#ffde00 0 64.44%,#ffd400 0 66.67%,#ffc900 0 68.89%,#ffbe00 0 71.11%,#ffb300 0 73.33%,#ffa800 0 75.56%,#ff9d00 0 77.78%,#ff9100 0 80.00%,#ff8500 0 82.22%,#ff7900 0 84.44%,#ff6d00 0 86.67%,#ff6100 0 88.89%,#ff5400 0 91.11%,#ff4700 0 93.33%,#ff3a00 0 95.56%,#ff2d00 0 97.78%,#ff2000 0 100.00%)"></div><div style="background:linear-gradient(90deg,#ffffe5 0 2.22%,#ffffe1 0 4.44%,#ffffdc 0 6.67%,#ffffd5 0 8.89%,#ffffce 0 11.11%,#ffffc6 0 13.33%,#ffffbc 0 15.56%,#ffffb2 0 17.78%,#ffffa7 0 20.00%,#ffff9c 0 22.22%,#ffff8f 0 24.44%,#ffff82 0 26.67%,#ffff74 0 28.89%,#ffff66 0 31.11%,#ffff57 0 33.33%,#ffff47 0 35.56%,#ffff37 0 37.78%,#ffff26 0 40.00%,#ffff15 0 42.22%,#ffff03 0 44.44%,#fff500 0 46.67%,#ffe800 0 48.89%,#ffdb00 0 51.11%,#ffcd00 0 53.33%,#ffc000 0 55.56%,#ffb200 0 57.78%,#ffa300 0 60.00%,#ff9400 0 62.22%,#ff8500 0 64.44%,#ff7600 0 66.67%,#ff6600 0 68.89%,#ff5600 0 71.11%,#ff4600 0 73.33%,#ff3600 0 75.56%,#ff2500 0 77.78%,#ff1400 0 80.00%,#ff0200 0 82.22%,#ef0000 0 84.44%,#dd0000 0 86.67%,#cb0000 0 88.89%,#b90000 0 91.11%,#a60000 0 93.33%,#930000 0 95.56%,#7f0000 0 97.78%,#6c0000 0 100.00%)"></div><div style="background:linear-gradient(90deg,#ffffe5 0 2.22%,#ffffe1 0 4.44%,#ffffdb 0 6.67%,#ffffd4 0 8.89%,#ffffcc 0 11.11%,#ffffc3 0 13.33%,#ffffb9 0 15.56%,#ffffaf 0 17.78%,#ffffa3 0 20.00%,#ffff97 0 22.22%,#ffff89 0 24.44%,#ffff7c 0 26.67%,#ffff6d 0 28.89%,#ffff5e 0 31.11%,#ffff4e 0 33.33%,#ffff3d 0 35.56%,#ffff2c 0 37.78%,#ffff1a 0 40.00%,#ffff07 0 42.22%,#fff700 0 44.44%,#ffea00 0 46.67%,#ffdc00 0 48.89%,#ffcf00 0 51.11%,#ffc000 0 53.33%,#ffb200 0 55.56%,#ffa300 0 57.78%,#ff9300 0 60.00%,#ff8400 0 62.22%,#ff7400 0 64.44%,#ff6300 0 66.67%,#ff5300 0 68.89%,#ff4200 0 71.11%,#ff3000 0 73.33%,#ff1f00 0 75.56%,#ff0d00 0 77.78%,#fa0000 0 80.00%,#e70000 0 82.22%,#d40000 0 84.44%,#c10000 0 86.67%,#ad0000 0 88.89%,#9a0000 0 91.11%,#860000 0 93.33%,#710000 0 95.56%,#5d0000 0 97.78%,#480000 0 100.00%)"></div><div style="background:linear-gradient(90deg,#ffffe5 0 2.22%,#ffffe2 0 4.44%,#ffffdf 0 6.67%,#ffffda 0 8.89%,#ffffd4 0 11.11%,#ffffce 0 13.33%,#ffffc7 0 15.56%,#ffffc0 0 17.78%,#ffffb8 0 20.00%,#ffffaf 0 22.22%,#ffffa6 0 24.44%,#ffff9c 0 26.67%,#ffff92 0 28.89%,#ffff87 0 31.11%,#ffff7c 0 33.33%,#ffff70 0 35.56%,#ffff64 0 37.78%,#ffff58 0 40.00%,#ffff4b 0 42.22%,#ffff3e 0 44.44%,#ffff30 0 46.67%,#ffff22 0 48.89%,#ffff13 0 51.11%,#ffff04 0 53.33%,#fff800 0 55.56%,#ffed00 0 57.78%,#ffe300 0 60.00%,#ffd800 0 62.22%,#ffcd00 0 64.44%,#ffc100 0 66.67%,#ffb600 0 68.89%,#ffaa00 0 71.11%,#ff9e00 0 73.33%,#ff9100 0 75.56%,#ff8500 0 77.78%,#ff7800 0 80.00%,#ff6b00 0 82.22%,#ff5e00 0 84.44%,#ff5100 0 86.67%,#ff4300 0 88.89%,#ff3500 0 91.11%,#ff2700 0 93.33%,#ff1900 0 95.56%,#ff0b00 0 97.78%,#fb0000 0 100.00%)"></div><div style="background:linear-gradient(90deg,#ffffe6 0 2.22%,#ffffe4 0 4.44%,#ffffe2 0 6.67%,#ffffdf 0 8.89%,#ffffdc 0 11.11%,#ffffd9 0 13.33%,#ffffd5 0 15.56%,#ffffd1 0 17.78%,#ffffcc 0 20.00%,#ffffc7 0 22.22%,#ffffc2 0 24.44%,#ffffbd 0 26.67%,#ffffb7 0 28.89%,#ffffb1 0 31.11%,#ffffaa 0 33.33%,#ffffa4 0 35.56%,#ffff9d 0 37.78%,#ffff96 0 40.00%,#ffff8f 0 42.22%,#ffff87 0 44.44%,#ffff7f 0 46.67%,#ffff77 0 48.89%,#ffff6f 0 51.11%,#ffff67 0 53.33%,#ffff5e 0 55.56%,#ffff55 0 57.78%,#ffff4c 0 60.00%,#ffff43 0 62.22%,#ffff3a 0 64.44%,#ffff30 0 66.67%,#ffff26 0 68.89%,#ffff1c 0 71.11%,#ffff12 0 73.33%,#ffff07 0 75.56%,#fffd00 0 77.78%,#fff600 0 80.00%,#ffee00 0 82.22%,#ffe700 0 84.44%,#ffdf00 0 86.67%,#ffd800 0 88.89%,#ffd000 0 91.11%,#ffc800 0 93.33%,#ffc000 0 95.56%,#ffb800 0 97.78%,#ffb000 0 100.00%)"></div><div style="background:linear-gradient(90deg,#ffffe7 0 2.22%,#ffffe6 0 6.67%,#ffffe5 0 8.89%,#ffffe4 0 13.33%,#ffffe3 0 15.56%,#ffffe2 0 17.78%,#ffffe1 0 20.00%,#ffffdf 0 22.22%,#ffffde 0 24.44%,#ffffdd 0 26.67%,#ffffdc 0 28.89%,#ffffda 0 31.11%,#ffffd9 0 33.33%,#ffffd7 0 35.56%,#ffffd6 0 37.78%,#ffffd4 0 40.00%,#ffffd2 0 42.22%,#ffffd1 0 44.44%,#ffffcf 0 46.67%,#ffffcd 0 48.89%,#ffffcb 0 51.11%,#ffffc9 0 53.33%,#ffffc7 0 55.56%,#ffffc5 0 57.78%,#ffffc3 0 60.00%,#ffffc1 0 62.22%,#ffffbf 0 64.44%,#ffffbd 0 66.67%,#ffffba 0 68.89%,#ffffb8 0 71.11%,#ffffb6 0 73.33%,#ffffb3 0 75.56%,#ffffb1 0 77.78%,#ffffae 0 80.00%,#ffffac 0 82.22%,#ffffa9 0 84.44%,#ffffa7 0 86.67%,#ffffa4 0 88.89%,#ffffa1 0 91.11%,#ffff9e 0 93.33%,#ffff9c 0 95.56%,#ffff99 0 97.78%,#ffff96 0 100.00%)"></div><div style="background:linear-gradient(90deg,#ffffe7 0 4.44%,#ffffe6 0 13.33%,#ffffe5 0 20.00%,#ffffe4 0 24.44%,#ffffe3 0 31.11%,#ffffe2 0 35.56%,#ffffe1 0 40.00%,#ffffe0 0 42.22%,#ffffdf 0 46.67%,#ffffde 0 51.11%,#ffffdd 0 53.33%,#ffffdc 0 57.78%,#ffffdb 0 60.00%,#ffffda 0 62.22%,#ffffd9 0 66.67%,#ffffd8 0 68.89%,#ffffd7 0 71.11%,#ffffd6 0 75.56%,#ffffd5 0 77.78%,#ffffd4 0 80.00%,#ffffd3 0 82.22%,#ffffd2 0 84.44%,#ffffd1 0 86.67%,#ffffd0 0 91.11%,#ffffcf 0 93.33%,#ffffce 0 95.56%,#ffffcd 0 97.78%,#ffffcc 0 100.00%)"></div><div style="background:linear-gradient(90deg,#ffffe6 0 2.22%,#ffffe5 0 4.44%,#ffffe3 0 6.67%,#ffffe1 0 8.89%,#ffffde 0 11.11%,#ffffdb 0 13.33%,#ffffd8 0 15.56%,#ffffd4 0 17.78%,#ffffd0 0 20.00%,#ffffcc 0 22.22%,#ffffc8 0 24.44%,#ffffc3 0 26.67%,#ffffbe 0 28.89%,#ffffb9 0 31.11%,#ffffb4 0 33.33%,#ffffae 0 35.56%,#ffffa8 0 37.78%,#ffffa2 0 40.00%,#ffff9c 0 42.22%,#ffff96 0 44.44%,#ffff8f 0 46.67%,#ffff89 0 48.89%,#ffff82 0 51.11%,#ffff7a 0 53.33%,#ffff73 0 55.56%,#ffff6c 0 57.78%,#ffff64 0 60.00%,#ffff5c 0 62.22%,#ffff54 0 64.44%,#ffff4c 0 66.67%,#ffff44 0 68.89%,#ffff3b 0 71.11%,#ffff32 0 73.33%,#ffff2a 0 75.56%,#ffff21 0 77.78%,#ffff18 0 80.00%,#ffff0e 0 82.22%,#ffff05 0 84.44%,#fffc00 0 86.67%,#fff500 0 88.89%,#ffef00 0 91.11%,#ffe800 0 93.33%,#ffe100 0 95.56%,#ffda00 0 97.78%,#ffd300 0 100.00%)"></div><div style="background:linear-gradient(90deg,#ffffe5 0 2.22%,#ffffe3 0 4.44%,#ffffdf 0 6.67%,#ffffdb 0 8.89%,#ffffd6 0 11.11%,#ffffd0 0 13.33%,#ffffca 0 15.56%,#ffffc3 0 17.78%,#ffffbc 0 20.00%,#ffffb4 0 22.22%,#ffffab 0 24.44%,#ffffa3 0 26.67%,#ffff99 0 28.89%,#ffff8f 0 31.11%,#ffff85 0 33.33%,#ffff7b 0 35.56%,#ffff70 0 37.78%,#ffff64 0 40.00%,#ffff58 0 42.22%,#ffff4c 0 44.44%,#ffff40 0 46.67%,#ffff33 0 48.89%,#ffff26 0 51.11%,#ffff18 0 53.33%,#ffff0a 0 55.56%,#fffc00 0 57.78%,#fff200 0 60.00%,#ffe800 0 62.22%,#ffde00 0 64.44%,#ffd400 0 66.67%,#ffc900 0 68.89%,#ffbe00 0 71.11%,#ffb300 0 73.33%,#ffa800 0 75.56%,#ff9d00 0 77.78%,#ff9100 0 80.00%,#ff8500 0 82.22%,#ff7900 0 84.44%,#ff6d00 0 86.67%,#ff6100 0 88.89%,#ff5400 0 91.11%,#ff4700 0 93.33%,#ff3a00 0 95.56%,#ff2d00 0 97.78%,#ff2000 0 100.00%)"></div><div style="background:linear-gradient(90deg,#ffffe5 0 2.22%,#ffffe1 0 4.44%,#ffffdc 0 6.67%,#ffffd5 0 8.89%,#ffffce 0 11.11%,#ffffc6 0 13.33%,#ffffbc 0 15.56%,#ffffb2 0 17.78%,#ffffa7 0 20.00%,#ffff9c 0 22.22%,#ffff8f 0 24.44%,#ffff82 0 26.67%,#ffff74 0 28.89%,#ffff66 0 31.11%,#ffff57 0 33.33%,#ffff47 0 35.56%,#ffff37 0 37.78%,#ffff26 0 40.00%,#ffff15 0 42.22%,#ffff03 0 44.44%,#fff500 0 46.67%,#ffe800 0 48.89%,#ffdb00 0 51.11%,#ffcd00 0 53.33%,#ffc000 0 55.56%,#ffb200 0 57.78%,#ffa300 0 60.00%,#ff9400 0 62.22%,#ff8500 0 64.44%,#ff7600 0 66.67%,#ff6600 0 68.89%,#ff5600 0 71.11%,#ff4600 0 73.33%,#ff3600 0 75.56%,#ff2500 0 77.78%,#ff1400 0 80.00%,#ff0200 0 82.22%,#ef0000 0 84.44%,#dd0000 0 86.67%,#cb0000 0 88.89%,#b90000 0 91.11%,#a60000 0 93.33%,#930000 0 95.56%,#7f0000 0 97.78%,#6c0000 0 100.00%)"></div><div style="background:linear-gradient(90deg,#ffffe5 0 2.22%,#ffffe1 0 4.44%,#ffffdb 0 6.67%,#ffffd4 0 8.89%,#ffffcc 0 11.11%,#ffffc3 0 13.33%,#ffffb9 0 15.56%,#ffffaf 0 17.78%,#ffffa3 0 20.00%,#ffff97 0 22.22%,#ffff89 0 24.44%,#ffff7c 0 26.67%,#ffff6d 0 28.89%,#ffff5e 0 31.11%,#ffff4e 0 33.33%,#ffff3d 0 35.56%,#ffff2c 0 37.78%,#ffff1a 0 40.00%,#ffff07 0 42.22%,#fff700 0 44.44%,#ffea00 0 46.67%,#ffdc00 0 48.89%,#ffcf00 0 51.11%,#ffc000 0 53.33%,#ffb200 0 55.56%,#ffa300 0 57.78%,#ff9300 0 60.00%,#ff8400 0 62.22%,#ff7400 0 64.44%,#ff6300 0 66.67%,#ff5300 0 68.89%,#ff4200 0 71.11%,#ff3000 0 73.33%,#ff1f00 0 75.56%,#ff0d00 0 77.78%,#fa0000 0 80.00%,#e70000 0 82.22%,#d40000 0 84.44%,#c10000 0 86.67%,#ad0000 0 88.89%,#9a0000 0 91.11%,#860000 0 93.33%,#710000 0 95.56%,#5d0000 0 97.78%,#480000 0 100.00%)"></div><div style="background:linear-gradient(90deg,#ffffe5 0 2.22%,#ffffe2 0 4.44%,#ffffdf 0 6.67%,#ffffda 0 8.89%,#ffffd4 0 11.11%,#ffffce 0 13.33%,#ffffc7 0 15.56%,#ffffc0 0 17.78%,#ffffb8 0 20.00%,#ffffaf 0 22.22%,#ffffa6 0 24.44%,#ffff9c 0 26.67%,#ffff92 0 28.89%,#ffff87 0 31.11%,#ffff7c 0 33.33%,#ffff70 0 35.56%,#ffff64 0 37.78%,#ffff58 0 40.00%,#ffff4b 0 42.22%,#ffff3e 0 44.44%,#ffff30 0 46.67%,#ffff22 0 48.89%,#ffff13 0 51.11%,#ffff04 0 53.33%,#fff800 0 55.56%,#ffed00 0 57.78%,#ffe300 0 60.00%,#ffd800 0 62.22%,#ffcd00 0 64.44%,#ffc100 0 66.67%,#ffb600 0 68.89%,#ffaa00 0 71.11%,#ff9e00 0 73.33%,#ff9100 0 75.56%,#ff8500 0 77.78%,#ff7800 0 80.00%,#ff6b00 0 82.22%,#ff5e00 0 84.44%,#ff5100 0 86.67%,#ff4300 0 88.89%,#ff3500 0 91.11%,#ff2700 0 93.33%,#ff1900 0 95.56%,#ff0b00 0 97.78%,#fb0000 0 100.00%)"></div><div style="background:linear-gradient(90deg,#ffffe6 0 2.22%,#ffffe4 0 4.44%,#ffffe2 0 6.67%,#ffffdf 0 8.89%,#ffffdc 0 11.11%,#ffffd9 0 13.33%,#ffffd5 0 15.56%,#ffffd1 0 17.78%,#ffffcc 0 20.00%,#ffffc7 0 22.22%,#ffffc2 0 24.44%,#ffffbd 0 26.67%,#ffffb7 0 28.89%,#ffffb1 0 31.11%,#ffffaa 0 33.33%,#ffffa4 0 35.56%,#ffff9d 0 37.78%,#ffff96 0 40.00%,#ffff8f 0 42.22%,#ffff87 0 44.44%,#ffff7f 0 46.67%,#ffff77 0 48.89%,#ffff6f 0 51.11%,#ffff67 0 53.33%,#ffff5e 0 55.56%,#ffff55 0 57.78%,#ffff4c 0 60.00%,#ffff43 0 62.22%,#ffff3a 0 64.44%,#ffff30 0 66.67%,#ffff26 0 68.89%,#ffff1c 0 71.11%,#ffff12 0 73.33%,#ffff07 0 75.56%,#fffd00 0 77.78%,#fff600 0 80.00%,#ffee00 0 82.22%,#ffe700 0 84.44%,#ffdf00 0 86.67%,#ffd800 0 88.89%,#ffd000 0 91.11%,#ffc800 0 93.33%,#ffc000 0 95.56%,#ffb800 0 97.78%,#ffb000 0 100.00%)"></div><div style="background:linear-gradient(90deg,#ffffe7 0 2.22%,#ffffe6 0 6.67%,#ffffe5 0 8.89%,#ffffe4 0 13.33%,#ffffe3 0 15.56%,#ffffe2 0 17.78%,#ffffe1 0 20.00%,#ffffdf 0 22.22%,#ffffde 0 24.44%,#ffffdd 0 26.67%,#ffffdc 0 28.89%,#ffffda 0 31.11%,#ffffd9 0 33.33%,#ffffd7 0 35.56%,#ffffd6 0 37.78%,#ffffd4 0 40.00%,#ffffd2 0 42.22%,#ffffd1 0 44.44%,#ffffcf 0 46.67%,#ffffcd 0 48.89%,#ffffcb 0 51.11%,#ffffc9 0 53.33%,#ffffc7 0 55.56%,#ffffc5 0 57.78%,#ffffc3 0 60.00%,#ffffc1 0 62.22%,#ffffbf 0 64.44%,#ffffbd 0 66.67%,#ffffba 0 68.89%,#ffffb8 0 71.11%,#ffffb6 0 73.33%,#ffffb3 0 75.56%,#ffffb1 0 77.78%,#ffffae 0 80.00%,#ffffac 0 82.22%,#ffffa9 0 84.44%,#ffffa7 0 86.67%,#ffffa4 0 88.89%,#ffffa1 0 91.11%,#ffff9e 0 93.33%,#ffff9c 0 95.56%,#ffff99 0 97.78%,#ffff96 0 100.00%)"></div><div style="background:linear-gradient(90deg,#ffffe7 0 4.44%,#ffffe6 0 13.33%,#ffffe5 0 20.00%,#ffffe4 0 24.44%,#ffffe3 0 31.11%,#ffffe2 0 35.56%,#ffffe1 0 40.00%,#ffffe0 0 42.22%,#ffffdf 0 46.67%,#ffffde 0 51.11%,#ffffdd 0 53.33%,#ffffdc 0 57.78%,#ffffdb 0 60.00%,#ffffda 0 62.22%,#ffffd9 0 66.67%,#ffffd8 0 68.89%,#ffffd7 0 71.11%,#ffffd6 0 75.56%,#ffffd5 0 77.78%,#ffffd4 0 80.00%,#ffffd3 0 82.22%,#ffffd2 0 84.44%,#ffffd1 0 86.67%,#ffffd0 0 91.11%,#ffffcf 0 93.33%,#ffffce 0 95.56%,#ffffcd 0 97.78%,#ffffcc 0 100.00%)"></div><div style="background:linear-gradient(90deg,#ffffe6 0 2.22%,#ffffe5 0 4.44%,#ffffe3 0 6.67%,#ffffe1 0 8.89%,#ffffde 0 11.11%,#ffffdb 0 13.33%,#ffffd8 0 15.56%,#ffffd4 0 17.78%,#ffffd0 0 20.00%,#ffffcc 0 22.22%,#ffffc8 0 24.44%,#ffffc3 0 26.67%,#ffffbe 0 28.89%,#ffffb9 0 31.11%,#ffffb4 0 33.33%,#ffffae 0 35.56%,#ffffa8 0 37.78%,#ffffa2 0 40.00%,#ffff9c 0 42.22%,#ffff96 0 44.44%,#ffff8f 0 46.67%,#ffff89 0 48.89%,#ffff82 0 51.11%,#ffff7a 0 53.33%,#ffff73 0 55.56%,#ffff6c 0 57.78%,#ffff64 0 60.00%,#ffff5c 0 62.22%,#ffff54 0 64.44%,#ffff4c 0 66.67%,#ffff44 0 68.89%,#ffff3b 0 71.11%,#ffff32 0 73.33%,#ffff2a 0 75.56%,#ffff21 0 77.78%,#ffff18 0 80.00%,#ffff0e 0 82.22%,#ffff05 0 84.44%,#fffc00 0 86.67%,#fff500 0 88.89%,#ffef00 0 91.11%,#ffe800 0 93.33%,#ffe100 0 95.56%,#ffda00 0 97.78%,#ffd300 0 100.00%)"></div><div style="background:linear-gradient(90deg,#ffffe5 0 2.22%,#ffffe3 0 4.44%,#ffffdf 0 6.67%,#ffffdb 0 8.89%,#ffffd6 0 11.11%,#ffffd0 0 13.33%,#ffffca 0 15.56%,#ffffc3 0 17.78%,#ffffbc 0 20.00%,#ffffb4 0 22.22%,#ffffab 0 24.44%,#ffffa3 0 26.67%,#ffff99 0 28.89%,#ffff8f 0 31.11%,#ffff85 0 33.33%,#ffff7b 0 35.56%,#ffff70 0 37.78%,#ffff64 0 40.00%,#ffff58 0 42.22%,#ffff4c 0 44.44%,#ffff40 0 46.67%,#ffff33 0 48.89%,#ffff26 0 51.11%,#ffff18 0 53.33%,#ffff0a 0 55.56%,#fffc00 0 57.78%,#fff200 0 60.00%,#ffe800 0 62.22%,#ffde00 0 64.44%,#ffd400 0 66.67%,#ffc900 0 68.89%,#ffbe00 0 71.11%,#ffb300 0 73.33%,#ffa800 0 75.56%,#ff9d00 0 77.78%,#ff9100 0 80.00%,#ff8500 0 82.22%,#ff7900 0 84.44%,#ff6d00 0 86.67%,#ff6100 0 88.89%,#ff5400 0 91.11%,#ff4700 0 93.33%,#ff3a00 0 95.56%,#ff2d00 0 97.78%,#ff2000 0 100.00%)"></div><div style="background:linear-gradient(90deg,#ffffe5 0 2.22%,#ffffe1 0 4.44%,#ffffdc 0 6.67%,#ffffd5 0 8.89%,#ffffce 0 11.11%,#ffffc6 0 13.33%,#ffffbc 0 15.56%,#ffffb2 0 17.78%,#ffffa7 0 20.00%,#ffff9c 0 22.22%,#ffff8f 0 24.44%,#ffff82 0 26.67%,#ffff74 0 28.89%,#ffff66 0 31.11%,#ffff57 0 33.33%,#ffff47 0 35.56%,#ffff37 0 37.78%,#ffff26 0 40.00%,#ffff15 0 42.22%,#ffff03 0 44.44%,#fff500 0 46.67%,#ffe800 0 48.89%,#ffdb00 0 51.11%,#ffcd00 0 53.33%,#ffc000 0 55.56%,#ffb200 0 57.78%,#ffa300 0 60.00%,#ff9400 0 62.22%,#ff8500 0 64.44%,#ff7600 0 66.67%,#ff6600 0 68.89%,#ff5600 0 71.11%,#ff4600 0 73.33%,#ff3600 0 75.56%,#ff2500 0 77.78%,#ff1400 0 80.00%,#ff0200 0 82.22%,#ef0000 0 84.44%,#dd0000 0 86.67%,#cb0000 0 88.89%,#b90000 0 91.11%,#a60000 0 93.33%,#930000 0 95.56%,#7f0000 0 97.78%,#6c0000 0 100.00%)"></div><div style="background:linear-gradient(90deg,#ffffe5 0 2.22%,#ffffe1 0 4.44%,#ffffdb 0 6.67%,#ffffd4 0 8.89%,#ffffcc 0 11.11%,#ffffc3 0 13.33%,#ffffb9 0 15.56%,#ffffaf 0 17.78%,#ffffa3 0 20.00%,#ffff97 0 22.22%,#ffff89 0 24.44%,#ffff7c 0 26.67%,#ffff6d 0 28.89%,#ffff5e 0 31.11%,#ffff4e 0 33.33%,#ffff3d 0 35.56%,#ffff2c 0 37.78%,#ffff1a 0 40.00%,#ffff07 0 42.22%,#fff700 0 44.44%,#ffea00 0 46.67%,#ffdc00 0 48.89%,#ffcf00 0 51.11%,#ffc000 0 53.33%,#ffb200 0 55.56%,#ffa300 0 57.78%,#ff9300 0 60.00%,#ff8400 0 62.22%,#ff7400 0 64.44%,#ff6300 0 66.67%,#ff5300 0 68.89%,#ff4200 0 71.11%,#ff3000 0 73.33%,#ff1f00 0 75.56%,#ff0d00 0 77.78%,#fa0000 0 80.00%,#e70000 0 82.22%,#d40000 0 84.44%,#c10000 0 86.67%,#ad0000 0 88.89%,#9a0000 0 91.11%,#860000 0 93.33%,#710000 0 95.56%,#5d0000 0 97.78%,#480000 0 100.00%)"></div><div style="background:linear-gradient(90deg,#ffffe5 0 2.22%,#ffffe2 0 4.44%,#ffffdf 0 6.67%,#ffffda 0 8.89%,#ffffd4 0 11.11%,#ffffce 0 13.33%,#ffffc7 0 15.56%,#ffffc0 0 17.78%,#ffffb8 0 20.00%,#ffffaf 0 22.22%,#ffffa6 0 24.44%,#ffff9c 0 26.67%,#ffff92 0 28.89%,#ffff87 0 31.11%,#ffff7c 0 33.33%,#ffff70 0 35.56%,#ffff64 0 37.78%,#ffff58 0 40.00%,#ffff4b 0 42.22%,#ffff3e 0 44.44%,#ffff30 0 46.67%,#ffff22 0 48.89%,#ffff13 0 51.11%,#ffff04 0 53.33%,#fff800 0 55.56%,#ffed00 0 57.78%,#ffe300 0 60.00%,#ffd800 0 62.22%,#ffcd00 0 64.44%,#ffc100 0 66.67%,#ffb600 0 68.89%,#ffaa00 0 71.11%,#ff9e00 0 73.33%,#ff9100 0 75.56%,#ff8500 0 77.78%,#ff7800 0 80.00%,#ff6b00 0 82.22%,#ff5e00 0 84.44%,#ff5100 0 86.67%,#ff4300 0 88.89%,#ff3500 0 91.11%,#ff2700 0 93.33%,#ff1900 0 95.56%,#ff0b00 0 97.78%,#fb0000 0 100.00%)"></div><div style="background:linear-gradient(90deg,#ffffe6 0 2.22%,#ffffe4 0 4.44%,#ffffe2 0 6.67%,#ffffdf 0 8.89%,#ffffdc 0 11.11%,#ffffd9 0 13.33%,#ffffd5 0 15.56%,#ffffd1 0 17.78%,#ffffcc 0 20.00%,#ffffc7 0 22.22%,#ffffc2 0 24.44%,#ffffbd 0 26.67%,#ffffb7 0 28.89%,#ffffb1 0 31.11%,#ffffaa 0 33.33%,#ffffa4 0 35.56%,#ffff9d 0 37.78%,#ffff96 0 40.00%,#ffff8f 0 42.22%,#ffff87 0 44.44%,#ffff7f 0 46.67%,#ffff77 0 48.89%,#ffff6f 0 51.11%,#ffff67 0 53.33%,#ffff5e 0 55.56%,#ffff55 0 57.78%,#ffff4c 0 60.00%,#ffff43 0 62.22%,#ffff3a 0 64.44%,#ffff30 0 66.67%,#ffff26 0 68.89%,#ffff1c 0 71.11%,#ffff12 0 73.33%,#ffff07 0 75.56%,#fffd00 0 77.78%,#fff600 0 80.00%,#ffee00 0 82.22%,#ffe700 0 84.44%,#ffdf00 0 86.67%,#ffd800 0 88.89%,#ffd000 0 91.11%,#ffc800 0 93.33%,#ffc000 0 95.56%,#ffb800 0 97.78%,#ffb000 0 100.00%)"></div><div style="background:linear-gradient(90deg,#ffffe7 0 2.22%,#ffffe6 0 6.67%,#ffffe5 0 8.89%,#ffffe4 0 13.33%,#ffffe3 0 15.56%,#ffffe2 0 17.78%,#ffffe1 0 20.00%,#ffffdf 0 22.22%,#ffffde 0 24.44%,#ffffdd 0 26.67%,#ffffdc 0 28.89%,#ffffda 0 31.11%,#ffffd9 0 33.33%,#ffffd7 0 35.56%,#ffffd6 0 37.78%,#ffffd4 0 40.00%,#ffffd2 0 42.22%,#ffffd1 0 44.44%,#ffffcf 0 46.67%,#ffffcd 0 48.89%,#ffffcb 0 51.11%,#ffffc9 0 53.33%,#ffffc7 0 55.56%,#ffffc5 0 57.78%,#ffffc3 0 60.00%,#ffffc1 0 62.22%,#ffffbf 0 64.44%,#ffffbd 0 66.67%,#ffffba 0 68.89%,#ffffb8 0 71.11%,#ffffb6 0 73.33%,#ffffb3 0 75.56%,#ffffb1 0 77.78%,#ffffae 0 80.00%,#ffffac 0 82.22%,#ffffa9 0 84.44%,#ffffa7 0 86.67%,#ffffa4 0 88.89%,#ffffa1 0 91.11%,#ffff9e 0 93.33%,#ffff9c 0 95.56%,#ffff99 0 97.78%,#ffff96 0 100.00%)"></div><div style="background:linear-gradient(90deg,#ffffe7 0 4.44%,#ffffe6 0 13.33%,#ffffe5 0 20.00%,#ffffe4 0 24.44%,#ffffe3 0 31.11%,#ffffe2 0 35.56%,#ffffe1 0 40.00%,#ffffe0 0 42.22%,#ffffdf 0 46.67%,#ffffde 0 51.11%,#ffffdd 0 53.33%,#ffffdc 0 57.78%,#ffffdb 0 60.00%,#ffffda 0 62.22%,#ffffd9 0 66.67%,#ffffd8 0 68.89%,#ffffd7 0 71.11%,#ffffd6 0 75.56%,#ffffd5 0 77.78%,#ffffd4 0 80.00%,#ffffd3 0 82.22%,#ffffd2 0 84.44%,#ffffd1 0 86.67%,#ffffd0 0 91.11%,#ffffcf 0 93.33%,#ffffce 0 95.56%,#ffffcd 0 97.78%,#ffffcc 0 100.00%)"></div><div style="background:linear-gradient(90deg,#ffffe6 0 2.22%,#ffffe5 0 4.44%,#ffffe3 0 6.67%,#ffffe1 0 8.89%,#ffffde 0 11.11%,#ffffdb 0 13.33%,#ffffd8 0 15.56%,#ffffd4 0 17.78%,#ffffd0 0 20.00%,#ffffcc 0 22.22%,#ffffc8 0 24.44%,#ffffc3 0 26.67%,#ffffbe 0 28.89%,#ffffb9 0 31.11%,#ffffb4 0 33.33%,#ffffae 0 35.56%,#ffffa8 0 37.78%,#ffffa2 0 40.00%,#ffff9c 0 42.22%,#ffff96 0 44.44%,#ffff8f 0 46.67%,#ffff89 0 48.89%,#ffff82 0 51.11%,#ffff7a 0 53.33%,#ffff73 0 55.56%,#ffff6c 0 57.78%,#ffff64 0 60.00%,#ffff5c 0 62.22%,#ffff54 0 64.44%,#ffff4c 0 66.67%,#ffff44 0 68.89%,#ffff3b 0 71.11%,#ffff32 0 73.33%,#ffff2a 0 75.56%,#ffff21 0 77.78%,#ffff18 0 80.00%,#ffff0e 0 82.22%,#ffff05 0 84.44%,#fffc00 0 86.67%,#fff500 0 88.89%,#ffef00 0 91.11%,#ffe800 0 93.33%,#ffe100 0 95.56%,#ffda00 0 97.78%,#ffd300 0 100.00%)"></div><div style="background:linear-gradient(90deg,#ffffe5 0 2.22%,#ffffe3 0 4.44%,#ffffdf 0 6.67%,#ffffdb 0 8.89%,#ffffd6 0 11.11%,#ffffd0 0 13.33%,#ffffca 0 15.56%,#ffffc3 0 17.78%,#ffffbc 0 20.00%,#ffffb4 0 22.22%,#ffffab 0 24.44%,#ffffa3 0 26.67%,#ffff99 0 28.89%,#ffff8f 0 31.11%,#ffff85 0 33.33%,#ffff7b 0 35.56%,#ffff70 0 37.78%,#ffff64 0 40.00%,#ffff58 0 42.22%,#ffff4c 0 44.44%,#ffff40 0 46.67%,#ffff33 0 48.89%,#ffff26 0 51.11%,#ffff18 0 53.33%,#ffff0a 0 55.56%,#fffc00 0 57.78%,#fff200 0 60.00%,#ffe800 0 62.22%,#ffde00 0 64.44%,#ffd400 0 66.67%,#ffc900 0 68.89%,#ffbe00 0 71.11%,#ffb300 0 73.33%,#ffa800 0 75.56%,#ff9d00 0 77.78%,#ff9100 0 80.00%,#ff8500 0 82.22%,#ff7900 0 84.44%,#ff6d00 0 86.67%,#ff6100 0 88.89%,#ff5400 0 91.11%,#ff4700 0 93.33%,#ff3a00 0 95.56%,#ff2d00 0 97.78%,#ff2000 0 100.00%)"></div><div style="background:linear-gradient(90deg,#ffffe5 0 2.22%,#ffffe1 0 4.44%,#ffffdc 0 6.67%,#ffffd5 0 8.89%,#ffffce 0 11.11%,#ffffc6 0 13.33%,#ffffbc 0 15.56%,#ffffb2 0 17.78%,#ffffa7 0 20.00%,#ffff9c 0 22.22%,#ffff8f 0 24.44%,#ffff82 0 26.67%,#ffff74 0 28.89%,#ffff66 0 31.11%,#ffff57 0 33.33%,#ffff47 0 35.56%,#ffff37 0 37.78%,#ffff26 0 40.00%,#ffff15 0 42.22%,#ffff03 0 44.44%,#fff500 0 46.67%,#ffe800 0 48.89%,#ffdb00 0 51.11%,#ffcd00 0 53.33%,#ffc000 0 55.56%,#ffb200 0 57.78%,#ffa300 0 60.00%,#ff9400 0 62.22%,#ff8500 0 64.44%,#ff7600 0 66.67%,#ff6600 0 68.89%,#ff5600 0 71.11%,#ff4600 0 73.33%,#ff3600 0 75.56%,#ff2500 0 77.78%,#ff1400 0 80.00%,#ff0200 0 82.22%,#ef0000 0 84.44%,#dd0000 0 86.67%,#cb0000 0 88.89%,#b90000 0 91.11%,#a60000 0 93.33%,#930000 0 95.56%,#7f0000 0 97.78%,#6c0000 0 100.00%)"></div><div style="background:linear-gradient(90deg,#ffffe5 0 2.22%,#ffffe1 0 4.44%,#ffffdb 0 6.67%,#ffffd4 0 8.89%,#ffffcc 0 11.11%,#ffffc3 0 13.33%,#ffffb9 0 15.56%,#ffffaf 0 17.78%,#ffffa3 0 20.00%,#ffff97 0 22.22%,#ffff89 0 24.44%,#ffff7c 0 26.67%,#ffff6d 0 28.89%,#ffff5e 0 31.11%,#ffff4e 0 33.33%,#ffff3d 0 35.56%,#ffff2c 0 37.78%,#ffff1a 0 40.00%,#ffff07 0 42.22%,#fff700 0 44.44%,#ffea00 0 46.67%,#ffdc00 0 48.89%,#ffcf00 0 51.11%,#ffc000 0 53.33%,#ffb200 0 55.56%,#ffa300 0 57.78%,#ff9300 0 60.00%,#ff8400 0 62.22%,#ff7400 0 64.44%,#ff6300 0 66.67%,#ff5300 0 68.89%,#ff4200 0 71.11%,#ff3000 0 73.33%,#ff1f00 0 75.56%,#ff0d00 0 77.78%,#fa0000 0 80.00%,#e70000 0 82.22%,#d40000 0 84.44%,#c10000 0 86.67%,#ad0000 0 88.89%,#9a0000 0 91.11%,#860000 0 93.33%,#710000 0 95.56%,#5d0000 0 97.78%,#480000 0 100.00%)"></div><div style="background:linear-gradient(90deg,#ffffe5 0 2.22%,#ffffe2 0 4.44%,#ffffdf 0 6.67%,#ffffda 0 8.89%,#ffffd4 0 11.11%,#ffffce 0 13.33%,#ffffc7 0 15.56%,#ffffc0 0 17.78%,#ffffb8 0 20.00%,#ffffaf 0 22.22%,#ffffa6 0 24.44%,#ffff9c 0 26.67%,#ffff92 0 28.89%,#ffff87 0 31.11%,#ffff7c 0 33.33%,#ffff70 0 35.56%,#ffff64 0 37.78%,#ffff58 0 40.00%,#ffff4b 0 42.22%,#ffff3e 0 44.44%,#ffff30 0 46.67%,#ffff22 0 48.89%,#ffff13 0 51.11%,#ffff04 0 53.33%,#fff800 0 55.56%,#ffed00 0 57.78%,#ffe300 0 60.00%,#ffd800 0 62.22%,#ffcd00 0 64.44%,#ffc100 0 66.67%,#ffb600 0 68.89%,#ffaa00 0 71.11%,#ff9e00 0 73.33%,#ff9100 0 75.56%,#ff8500 0 77.78%,#ff7800 0 80.00%,#ff6b00 0 82.22%,#ff5e00 0 84.44%,#ff5100 0 86.67%,#ff4300 0 88.89%,#ff3500 0 91.11%,#ff2700 0 93.33%,#ff1900 0 95.56%,#ff0b00 0 97.78%,#fb0000 0 100.00%)"></div><div style="background:linear-gradient(90deg,#ffffe6 0 2.22%,#ffffe4 0 4.44%,#ffffe2 0 6.67%,#ffffdf 0 8.89%,#ffffdc 0 11.11%,#ffffd9 0 13.33%,#ffffd5 0 15.56%,#ffffd1 0 17.78%,#ffffcc 0 20.00%,#ffffc7 0 22.22%,#ffffc2 0 24.44%,#ffffbd 0 26.67%,#ffffb7 0 28.89%,#ffffb1 0 31.11%,#ffffaa 0 33.33%,#ffffa4 0 35.56%,#ffff9d 0 37.78%,#ffff96 0 40.00%,#ffff8f 0 42.22%,#ffff87 0 44.44%,#ffff7f 0 46.67%,#ffff77 0 48.89%,#ffff6f 0 51.11%,#ffff67 0 53.33%,#ffff5e 0 55.56%,#ffff55 0 57.78%,#ffff4c 0 60.00%,#ffff43 0 62.22%,#ffff3a 0 64.44%,#ffff30 0 66.67%,#ffff26 0 68.89%,#ffff1c 0 71.11%,#ffff12 0 73.33%,#ffff07 0 75.56%,#fffd00 0 77.78%,#fff600 0 80.00%,#ffee00 0 82.22%,#ffe700 0 84.44%,#ffdf00 0 86.67%,#ffd800 0 88.89%,#ffd000 0 91.11%,#ffc800 0 93.33%,#ffc000 0 95.56%,#ffb800 0 97.78%,#ffb000 0 100.00%)"></div><div style="background:linear-gradient(90deg,#ffffe7 0 2.22%,#ffffe6 0 6.67%,#ffffe5 0 8.89%,#ffffe4 0 13.33%,#ffffe3 0 15.56%,#ffffe2 0 17.78%,#ffffe1 0 20.00%,#ffffdf 0 22.22%,#ffffde 0 24.44%,#ffffdd 0 26.67%,#ffffdc 0 28.89%,#ffffda 0 31.11%,#ffffd9 0 33.33%,#ffffd7 0 35.56%,#ffffd6 0 37.78%,#ffffd4 0 40.00%,#ffffd2 0 42.22%,#ffffd1 0 44.44%,#ffffcf 0 46.67%,#ffffcd 0 48.89%,#ffffcb 0 51.11%,#ffffc9 0 53.33%,#ffffc7 0 55.56%,#ffffc5 0 57.78%,#ffffc3 0 60.00%,#ffffc1 0 62.22%,#ffffbf 0 64.44%,#ffffbd 0 66.67%,#ffffba 0 68.89%,#ffffb8 0 71.11%,#ffffb6 0 73.33%,#ffffb3 0 75.56%,#ffffb1 0 77.78%,#ffffae 0 80.00%,#ffffac 0 82.22%,#ffffa9 0 84.44%,#ffffa7 0 86.67%,#ffffa4 0 88.89%,#ffffa1 0 91.11%,#ffff9e 0 93.33%,#ffff9c 0 95.56%,#ffff99 0 97.78%,#ffff96 0 100.00%)"></div><div style="background:linear-gradient(90deg,#ffffe7 0 4.44%,#ffffe6 0 13.33%,#ffffe5 0 20.00%,#ffffe4 0 24.44%,#ffffe3 0 31.11%,#ffffe2 0 35.56%,#ffffe1 0 40.00%,#ffffe0 0 42.22%,#ffffdf 0 46.67%,#ffffde 0 51.11%,#ffffdd 0 53.33%,#ffffdc 0 57.78%,#ffffdb 0 60.00%,#ffffda 0 62.22%,#ffffd9 0 66.67%,#ffffd8 0 68.89%,#ffffd7 0 71.11%,#ffffd6 0 75.56%,#ffffd5 0 77.78%,#ffffd4 0 80.00%,#ffffd3 0 82.22%,#ffffd2 0 84.44%,#ffffd1 0 86.67%,#ffffd0 0 91.11%,#ffffcf 0 93.33%,#ffffce 0 95.56%,#ffffcd 0 97.78%,#ffffcc 0 100.00%)"></div><div style="background:linear-gradient(90deg,#ffffe6 0 2.22%,#ffffe5 0 4.44%,#ffffe3 0 6.67%,#ffffe1 0 8.89%,#ffffde 0 11.11%,#ffffdb 0 13.33%,#ffffd8 0 15.56%,#ffffd4 0 17.78%,#ffffd0 0 20.00%,#ffffcc 0 22.22%,#ffffc8 0 24.44%,#ffffc3 0 26.67%,#ffffbe 0 28.89%,#ffffb9 0 31.11%,#ffffb4 0 33.33%,#ffffae 0 35.56%,#ffffa8 0 37.78%,#ffffa2 0 40.00%,#ffff9c 0 42.22%,#ffff96 0 44.44%,#ffff8f 0 46.67%,#ffff89 0 48.89%,#ffff82 0 51.11%,#ffff7a 0 53.33%,#ffff73 0 55.56%,#ffff6c 0 57.78%,#ffff64 0 60.00%,#ffff5c 0 62.22%,#ffff54 0 64.44%,#ffff4c 0 66.67%,#ffff44 0 68.89%,#ffff3b 0 71.11%,#ffff32 0 73.33%,#ffff2a 0 75.56%,#ffff21 0 77.78%,#ffff18 0 80.00%,#ffff0e 0 82.22%,#ffff05 0 84.44%,#fffc00 0 86.67%,#fff500 0 88.89%,#ffef00 0 91.11%,#ffe800 0 93.33%,#ffe100 0 95.56%,#ffda00 0 97.78%,#ffd300 0 100.00%)"></div><div style="background:linear-gradient(90deg,#ffffe5 0 2.22%,#ffffe3 0 4.44%,#ffffdf 0 6.67%,#ffffdb 0 8.89%,#ffffd6 0 11.11%,#ffffd0 0 13.33%,#ffffca 0 15.56%,#ffffc3 0 17.78%,#ffffbc 0 20.00%,#ffffb4 0 22.22%,#ffffab 0 24.44%,#ffffa3 0 26.67%,#ffff99 0 28.89%,#ffff8f 0 31.11%,#ffff85 0 33.33%,#ffff7b 0 35.56%,#ffff70 0 37.78%,#ffff64 0 40.00%,#ffff58 0 42.22%,#ffff4c 0 44.44%,#ffff40 0 46.67%,#ffff33 0 48.89%,#ffff26 0 51.11%,#ffff18 0 53.33%,#ffff0a 0 55.56%,#fffc00 0 57.78%,#fff200 0 60.00%,#ffe800 0 62.22%,#ffde00 0 64.44%,#ffd400 0 66.67%,#ffc900 0 68.89%,#ffbe00 0 71.11%,#ffb300 0 73.33%,#ffa800 0 75.56%,#ff9d00 0 77.78%,#ff9100 0 80.00%,#ff8500 0 82.22%,#ff7900 0 84.44%,#ff6d00 0 86.67%,#ff6100 0 88.89%,#ff5400 0 91.11%,#ff4700 0 93.33%,#ff3a00 0 95.56%,#ff2d00 0 97.78%,#ff2000 0 100.00%)"></div><div style="background:linear-gradient(90deg,#ffffe5 0 2.22%,#ffffe1 0 4.44%,#ffffdc 0 6.67%,#ffffd5 0 8.89%,#ffffce 0 11.11%,#ffffc6 0 13.33%,#ffffbc 0 15.56%,#ffffb2 0 17.78%,#ffffa7 0 20.00%,#ffff9c 0 22.22%,#ffff8f 0 24.44%,#ffff82 0 26.67%,#ffff74 0 28.89%,#ffff66 0 31.11%,#ffff57 0 33.33%,#ffff47 0 35.56%,#ffff37 0 37.78%,#ffff26 0 40.00%,#ffff15 0 42.22%,#ffff03 0 44.44%,#fff500 0 46.67%,#ffe800 0 48.89%,#ffdb00 0 51.11%,#ffcd00 0 53.33%,#ffc000 0 55.56%,#ffb200 0 57.78%,#ffa300 0 60.00%,#ff9400 0 62.22%,#ff8500 0 64.44%,#ff7600 0 66.67%,#ff6600 0 68.89%,#ff5600 0 71.11%,#ff4600 0 73.33%,#ff3600 0 75.56%,#ff2500 0 77.78%,#ff1400 0 80.00%,#ff0200 0 82.22%,#ef0000 0 84.44%,#dd0000 0 86.67%,#cb0000 0 88.89%,#b90000 0 91.11%,#a60000 0 93.33%,#930000 0 95.56%,#7f0000 0 97.78%,#6c0000 0 100.00%)"></div><div style="background:linear-gradient(90deg,#ffffe5 0 2.22%,#ffffe1 0 4.44%,#ffffdb 0 6.67%,#ffffd4 0 8.89%,#ffffcc 0 11.11%,#ffffc3 0 13.33%,#ffffb9 0 15.56%,#ffffaf 0 17.78%,#ffffa3 0 20.00%,#ffff97 0 22.22%,#ffff89 0 24.44%,#ffff7c 0 26.67%,#ffff6d 0 28.89%,#ffff5e 0 31.11%,#ffff4e 0 33.33%,#ffff3d 0 35.56%,#ffff2c 0 37.78%,#ffff1a 0 40.00%,#ffff07 0 42.22%,#fff700 0 44.44%,#ffea00 0 46.67%,#ffdc00 0 48.89%,#ffcf00 0 51.11%,#ffc000 0 53.33%,#ffb200 0 55.56%,#ffa300 0 57.78%,#ff9300 0 60.00%,#ff8400 0 62.22%,#ff7400 0 64.44%,#ff6300 0 66.67%,#ff5300 0 68.89%,#ff4200 0 71.11%,#ff3000 0 73.33%,#ff1f00 0 75.56%,#ff0d00 0 77.78%,#fa0000 0 80.00%,#e70000 0 82.22%,#d40000 0 84.44%,#c10000 0 86.67%,#ad0000 0 88.89%,#9a0000 0 91.11%,#860000 0 93.33%,#710000 0 95.56%,#5d0000 0 97.78%,#480000 0 100.00%)"></div><div style="background:linear-gradient(90deg,#ffffe5 0 2.22%,#ffffe2 0 4.44%,#ffffdf 0 6.67%,#ffffda 0 8.89%,#ffffd4 0 11.11%,#ffffce 0 13.33%,#ffffc7 0 15.56%,#ffffc0 0 17.78%,#ffffb8 0 20.00%,#ffffaf 0 22.22%,#ffffa6 0 24.44%,#ffff9c 0 26.67%,#ffff92 0 28.89%,#ffff87 0 31.11%,#ffff7c 0 33.33%,#ffff70 0 35.56%,#ffff64 0 37.78%,#ffff58 0 40.00%,#ffff4b 0 42.22%,#ffff3e 0 44.44%,#ffff30 0 46.67%,#ffff22 0 48.89%,#ffff13 0 51.11%,#ffff04 0 53.33%,#fff800 0 55.56%,#ffed00 0 57.78%,#ffe300 0 60.00%,#ffd800 0 62.22%,#ffcd00 0 64.44%,#ffc100 0 66.67%,#ffb600 0 68.89%,#ffaa00 0 71.11%,#ff9e00 0 73.33%,#ff9100 0 75.56%,#ff8500 0 77.78%,#ff7800 0 80.00%,#ff6b00 0 82.22%,#ff5e00 0 84.44%,#ff5100 0 86.67%,#ff4300 0 88.89%,#ff3500 0 91.11%,#ff2700 0 93.33%,#ff1900 0 95.56%,#ff0b00 0 97.78%,#fb0000 0 100.00%)"></div><div style="background:linear-gradient(90deg,#ffffe6 0 2.22%,#ffffe4 0 4.44%,#ffffe2 0 6.67%,#ffffdf 0 8.89%,#ffffdc 0 11.11%,#ffffd9 0 13.33%,#ffffd5 0 15.56%,#ffffd1 0 17.78%,#ffffcc 0 20.00%,#ffffc7 0 22.22%,#ffffc2 0 24.44%,#ffffbd 0 26.67%,#ffffb7 0 28.89%,#ffffb1 0 31.11%,#ffffaa 0 33.33%,#ffffa4 0 35.56%,#ffff9d 0 37.78%,#ffff96 0 40.00%,#ffff8f 0 42.22%,#ffff87 0 44.44%,#ffff7f 0 46.67%,#ffff77 0 48.89%,#ffff6f 0 51.11%,#ffff67 0 53.33%,#ffff5e 0 55.56%,#ffff55 0 57.78%,#ffff4c 0 60.00%,#ffff43 0 62.22%,#ffff3a 0 64.44%,#ffff30 0 66.67%,#ffff26 0 68.89%,#ffff1c 0 71.11%,#ffff12 0 73.33%,#ffff07 0 75.56%,#fffd00 0 77.78%,#fff600 0 80.00%,#ffee00 0 82.22%,#ffe700 0 84.44%,#ffdf00 0 86.67%,#ffd800 0 88.89%,#ffd000 0 91.11%,#ffc800 0 93.33%,#ffc000 0 95.56%,#ffb800 0 97.78%,#ffb000 0 100.00%)"></div></div>
</div></body></html>
